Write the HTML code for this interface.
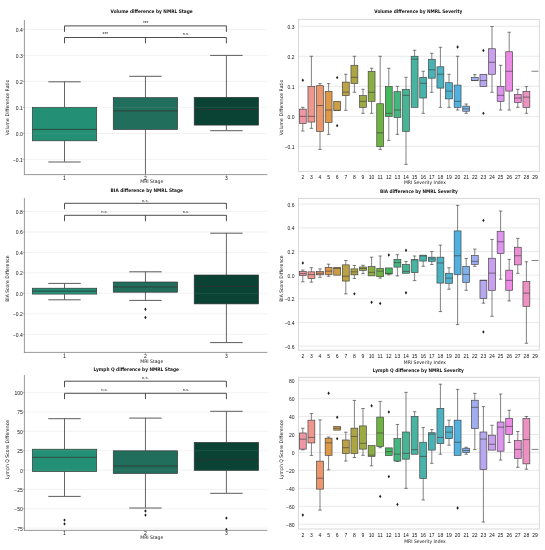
<!DOCTYPE html>
<html><head><meta charset="utf-8"><title>Boxplots</title>
<style>html,body{margin:0;padding:0;background:#fff;}svg{display:block;}</style>
</head><body>
<svg width="545" height="550" viewBox="0 0 545 550" font-family="'Liberation Sans', 'DejaVu Sans', Arial, sans-serif">
<rect width="545" height="550" fill="#ffffff"/>
<line x1="24.40" y1="29.40" x2="267.40" y2="29.40" stroke="#ececec" stroke-width="0.7"/>
<line x1="24.40" y1="55.40" x2="267.40" y2="55.40" stroke="#ececec" stroke-width="0.7"/>
<line x1="24.40" y1="81.40" x2="267.40" y2="81.40" stroke="#ececec" stroke-width="0.7"/>
<line x1="24.40" y1="107.40" x2="267.40" y2="107.40" stroke="#ececec" stroke-width="0.7"/>
<line x1="24.40" y1="133.40" x2="267.40" y2="133.40" stroke="#ececec" stroke-width="0.7"/>
<line x1="24.40" y1="159.40" x2="267.40" y2="159.40" stroke="#ececec" stroke-width="0.7"/>
<line x1="64.50" y1="81.50" x2="64.50" y2="107.30" stroke="#333333" stroke-width="0.75"/>
<line x1="64.50" y1="140.80" x2="64.50" y2="161.70" stroke="#333333" stroke-width="0.75"/>
<line x1="48.30" y1="162.00" x2="80.70" y2="162.00" stroke="#5c5c5c" stroke-width="1.0"/>
<line x1="48.30" y1="81.80" x2="80.70" y2="81.80" stroke="#5c5c5c" stroke-width="1.0"/>
<rect x="32.30" y="107.30" width="64.40" height="33.50" fill="#238f74" stroke="#333333" stroke-width="0.65"/>
<line x1="32.30" y1="129.40" x2="96.70" y2="129.40" stroke="#333333" stroke-width="0.75"/>
<line x1="145.45" y1="76.00" x2="145.45" y2="97.60" stroke="#333333" stroke-width="0.75"/>
<line x1="145.45" y1="129.50" x2="145.45" y2="174.60" stroke="#333333" stroke-width="0.75"/>
<line x1="129.25" y1="76.30" x2="161.65" y2="76.30" stroke="#5c5c5c" stroke-width="1.0"/>
<rect x="113.25" y="97.60" width="64.40" height="31.90" fill="#216e5c" stroke="#333333" stroke-width="0.65"/>
<line x1="113.25" y1="110.90" x2="177.65" y2="110.90" stroke="#333333" stroke-width="0.75"/>
<line x1="226.40" y1="55.10" x2="226.40" y2="97.30" stroke="#333333" stroke-width="0.75"/>
<line x1="226.40" y1="125.10" x2="226.40" y2="130.40" stroke="#333333" stroke-width="0.75"/>
<line x1="210.20" y1="130.70" x2="242.60" y2="130.70" stroke="#5c5c5c" stroke-width="1.0"/>
<line x1="210.20" y1="55.40" x2="242.60" y2="55.40" stroke="#5c5c5c" stroke-width="1.0"/>
<rect x="194.20" y="97.30" width="64.40" height="27.80" fill="#0a4234" stroke="#333333" stroke-width="0.65"/>
<line x1="194.20" y1="109.60" x2="258.60" y2="109.60" stroke="#333333" stroke-width="0.75"/>
<line x1="32.75" y1="107.40" x2="96.25" y2="107.40" stroke="#ffffff" stroke-width="0.7" stroke-opacity="0.12"/>
<line x1="113.70" y1="107.40" x2="177.20" y2="107.40" stroke="#ffffff" stroke-width="0.7" stroke-opacity="0.12"/>
<line x1="194.65" y1="107.40" x2="258.15" y2="107.40" stroke="#ffffff" stroke-width="0.7" stroke-opacity="0.12"/>
<line x1="32.75" y1="133.40" x2="96.25" y2="133.40" stroke="#ffffff" stroke-width="0.7" stroke-opacity="0.12"/>
<line x1="24.40" y1="20.00" x2="24.40" y2="175.05" stroke="#8c8c8c" stroke-width="0.9"/>
<line x1="23.95" y1="174.60" x2="267.40" y2="174.60" stroke="#8c8c8c" stroke-width="0.9"/>
<line x1="22.80" y1="29.40" x2="24.40" y2="29.40" stroke="#8c8c8c" stroke-width="0.6"/>
<text x="22.80" y="31.90" font-size="5.0" text-anchor="end" font-weight="normal" fill="#141414">0.4</text>
<line x1="22.80" y1="55.40" x2="24.40" y2="55.40" stroke="#8c8c8c" stroke-width="0.6"/>
<text x="22.80" y="57.90" font-size="5.0" text-anchor="end" font-weight="normal" fill="#141414">0.3</text>
<line x1="22.80" y1="81.40" x2="24.40" y2="81.40" stroke="#8c8c8c" stroke-width="0.6"/>
<text x="22.80" y="83.90" font-size="5.0" text-anchor="end" font-weight="normal" fill="#141414">0.2</text>
<line x1="22.80" y1="107.40" x2="24.40" y2="107.40" stroke="#8c8c8c" stroke-width="0.6"/>
<text x="22.80" y="109.90" font-size="5.0" text-anchor="end" font-weight="normal" fill="#141414">0.1</text>
<line x1="22.80" y1="133.40" x2="24.40" y2="133.40" stroke="#8c8c8c" stroke-width="0.6"/>
<text x="22.80" y="135.90" font-size="5.0" text-anchor="end" font-weight="normal" fill="#141414">0.0</text>
<line x1="22.80" y1="159.40" x2="24.40" y2="159.40" stroke="#8c8c8c" stroke-width="0.6"/>
<text x="22.80" y="161.90" font-size="5.0" text-anchor="end" font-weight="normal" fill="#141414">−0.1</text>
<line x1="64.50" y1="174.60" x2="64.50" y2="176.20" stroke="#8c8c8c" stroke-width="0.6"/>
<text x="64.50" y="179.55" font-size="5.0" text-anchor="middle" font-weight="normal" fill="#141414">1</text>
<line x1="145.45" y1="174.60" x2="145.45" y2="176.20" stroke="#8c8c8c" stroke-width="0.6"/>
<text x="145.45" y="179.55" font-size="5.0" text-anchor="middle" font-weight="normal" fill="#141414">2</text>
<line x1="226.40" y1="174.60" x2="226.40" y2="176.20" stroke="#8c8c8c" stroke-width="0.6"/>
<text x="226.40" y="179.55" font-size="5.0" text-anchor="middle" font-weight="normal" fill="#141414">3</text>
<path d="M64.50 31.90V25.90H226.40V31.90" fill="none" stroke="#3a3a3a" stroke-width="0.9"/>
<path d="M64.50 43.30V37.50H226.40V43.30" fill="none" stroke="#3a3a3a" stroke-width="0.9"/>
<line x1="145.45" y1="37.50" x2="145.45" y2="43.30" stroke="#3a3a3a" stroke-width="0.9"/>
<text x="145.70" y="24.90" font-size="5.6" text-anchor="middle" font-weight="normal" fill="#222" textLength="5.40" lengthAdjust="spacingAndGlyphs">***</text>
<text x="105.30" y="36.40" font-size="5.6" text-anchor="middle" font-weight="normal" fill="#222" textLength="5.40" lengthAdjust="spacingAndGlyphs">***</text>
<text x="186.00" y="35.00" font-size="4.0" text-anchor="middle" font-weight="normal" fill="#141414">n.s.</text>
<text x="110.60" y="13.00" font-size="4.9" text-anchor="start" font-weight="bold" fill="#111" textLength="82.10" lengthAdjust="spacingAndGlyphs" font-family="'DejaVu Sans', sans-serif">Volume difference by NMRL Stage</text>
<text x="140.20" y="183.30" font-size="4.8" text-anchor="start" font-weight="normal" fill="#141414" textLength="23.10" lengthAdjust="spacingAndGlyphs" font-family="'DejaVu Sans', sans-serif">MRI Stage</text>
<text transform="translate(9.20,107.40) rotate(-90)" x="0" y="0" font-size="4.8" text-anchor="middle" font-weight="normal" fill="#141414" textLength="55.60" lengthAdjust="spacingAndGlyphs" font-family="'DejaVu Sans', sans-serif">Volume Difference Ratio</text>
<line x1="24.40" y1="211.51" x2="267.40" y2="211.51" stroke="#ececec" stroke-width="0.7"/>
<line x1="24.40" y1="231.97" x2="267.40" y2="231.97" stroke="#ececec" stroke-width="0.7"/>
<line x1="24.40" y1="252.43" x2="267.40" y2="252.43" stroke="#ececec" stroke-width="0.7"/>
<line x1="24.40" y1="272.89" x2="267.40" y2="272.89" stroke="#ececec" stroke-width="0.7"/>
<line x1="24.40" y1="293.35" x2="267.40" y2="293.35" stroke="#ececec" stroke-width="0.7"/>
<line x1="24.40" y1="313.81" x2="267.40" y2="313.81" stroke="#ececec" stroke-width="0.7"/>
<line x1="24.40" y1="334.27" x2="267.40" y2="334.27" stroke="#ececec" stroke-width="0.7"/>
<line x1="64.50" y1="283.10" x2="64.50" y2="288.20" stroke="#333333" stroke-width="0.75"/>
<line x1="64.50" y1="294.10" x2="64.50" y2="299.50" stroke="#333333" stroke-width="0.75"/>
<line x1="48.30" y1="299.80" x2="80.70" y2="299.80" stroke="#5c5c5c" stroke-width="1.0"/>
<line x1="48.30" y1="283.40" x2="80.70" y2="283.40" stroke="#5c5c5c" stroke-width="1.0"/>
<rect x="32.30" y="288.20" width="64.40" height="5.90" fill="#238f74" stroke="#333333" stroke-width="0.65"/>
<line x1="32.30" y1="291.10" x2="96.70" y2="291.10" stroke="#333333" stroke-width="0.75"/>
<line x1="145.45" y1="271.50" x2="145.45" y2="282.00" stroke="#333333" stroke-width="0.75"/>
<line x1="145.45" y1="292.20" x2="145.45" y2="300.10" stroke="#333333" stroke-width="0.75"/>
<line x1="129.25" y1="300.40" x2="161.65" y2="300.40" stroke="#5c5c5c" stroke-width="1.0"/>
<line x1="129.25" y1="271.80" x2="161.65" y2="271.80" stroke="#5c5c5c" stroke-width="1.0"/>
<rect x="113.25" y="282.00" width="64.40" height="10.20" fill="#216e5c" stroke="#333333" stroke-width="0.65"/>
<line x1="113.25" y1="286.90" x2="177.65" y2="286.90" stroke="#333333" stroke-width="0.75"/>
<path d="M145.45 307.50L146.65 309.20L145.45 310.90L144.25 309.20Z" fill="#1e1e1e"/>
<path d="M145.45 315.80L146.65 317.50L145.45 319.20L144.25 317.50Z" fill="#1e1e1e"/>
<line x1="226.40" y1="232.90" x2="226.40" y2="275.00" stroke="#333333" stroke-width="0.75"/>
<line x1="226.40" y1="303.90" x2="226.40" y2="342.30" stroke="#333333" stroke-width="0.75"/>
<line x1="210.20" y1="342.60" x2="242.60" y2="342.60" stroke="#5c5c5c" stroke-width="1.0"/>
<line x1="210.20" y1="233.20" x2="242.60" y2="233.20" stroke="#5c5c5c" stroke-width="1.0"/>
<rect x="194.20" y="275.00" width="64.40" height="28.90" fill="#0a4234" stroke="#333333" stroke-width="0.65"/>
<line x1="194.20" y1="286.40" x2="258.60" y2="286.40" stroke="#333333" stroke-width="0.75"/>
<line x1="32.75" y1="293.35" x2="96.25" y2="293.35" stroke="#ffffff" stroke-width="0.7" stroke-opacity="0.12"/>
<line x1="194.65" y1="293.35" x2="258.15" y2="293.35" stroke="#ffffff" stroke-width="0.7" stroke-opacity="0.12"/>
<line x1="24.40" y1="197.90" x2="24.40" y2="352.85" stroke="#8c8c8c" stroke-width="0.9"/>
<line x1="23.95" y1="352.40" x2="267.40" y2="352.40" stroke="#8c8c8c" stroke-width="0.9"/>
<line x1="22.80" y1="211.51" x2="24.40" y2="211.51" stroke="#8c8c8c" stroke-width="0.6"/>
<text x="22.80" y="214.01" font-size="5.0" text-anchor="end" font-weight="normal" fill="#141414">0.8</text>
<line x1="22.80" y1="231.97" x2="24.40" y2="231.97" stroke="#8c8c8c" stroke-width="0.6"/>
<text x="22.80" y="234.47" font-size="5.0" text-anchor="end" font-weight="normal" fill="#141414">0.6</text>
<line x1="22.80" y1="252.43" x2="24.40" y2="252.43" stroke="#8c8c8c" stroke-width="0.6"/>
<text x="22.80" y="254.93" font-size="5.0" text-anchor="end" font-weight="normal" fill="#141414">0.4</text>
<line x1="22.80" y1="272.89" x2="24.40" y2="272.89" stroke="#8c8c8c" stroke-width="0.6"/>
<text x="22.80" y="275.39" font-size="5.0" text-anchor="end" font-weight="normal" fill="#141414">0.2</text>
<line x1="22.80" y1="293.35" x2="24.40" y2="293.35" stroke="#8c8c8c" stroke-width="0.6"/>
<text x="22.80" y="295.85" font-size="5.0" text-anchor="end" font-weight="normal" fill="#141414">0.0</text>
<line x1="22.80" y1="313.81" x2="24.40" y2="313.81" stroke="#8c8c8c" stroke-width="0.6"/>
<text x="22.80" y="316.31" font-size="5.0" text-anchor="end" font-weight="normal" fill="#141414">−0.2</text>
<line x1="22.80" y1="334.27" x2="24.40" y2="334.27" stroke="#8c8c8c" stroke-width="0.6"/>
<text x="22.80" y="336.77" font-size="5.0" text-anchor="end" font-weight="normal" fill="#141414">−0.4</text>
<line x1="64.50" y1="352.40" x2="64.50" y2="354.00" stroke="#8c8c8c" stroke-width="0.6"/>
<text x="64.50" y="357.65" font-size="5.0" text-anchor="middle" font-weight="normal" fill="#141414">1</text>
<line x1="145.45" y1="352.40" x2="145.45" y2="354.00" stroke="#8c8c8c" stroke-width="0.6"/>
<text x="145.45" y="357.65" font-size="5.0" text-anchor="middle" font-weight="normal" fill="#141414">2</text>
<line x1="226.40" y1="352.40" x2="226.40" y2="354.00" stroke="#8c8c8c" stroke-width="0.6"/>
<text x="226.40" y="357.65" font-size="5.0" text-anchor="middle" font-weight="normal" fill="#141414">3</text>
<path d="M64.50 209.20V203.30H226.40V209.20" fill="none" stroke="#3a3a3a" stroke-width="0.9"/>
<path d="M64.50 221.20V215.30H226.40V221.20" fill="none" stroke="#3a3a3a" stroke-width="0.9"/>
<line x1="145.45" y1="215.30" x2="145.45" y2="221.20" stroke="#3a3a3a" stroke-width="0.9"/>
<text x="145.30" y="201.60" font-size="4.0" text-anchor="middle" font-weight="normal" fill="#141414">n.s.</text>
<text x="104.50" y="212.90" font-size="4.0" text-anchor="middle" font-weight="normal" fill="#141414">n.s.</text>
<text x="186.00" y="212.90" font-size="4.0" text-anchor="middle" font-weight="normal" fill="#141414">n.s.</text>
<text x="110.60" y="191.60" font-size="4.9" text-anchor="start" font-weight="bold" fill="#111" textLength="72.30" lengthAdjust="spacingAndGlyphs" font-family="'DejaVu Sans', sans-serif">BIA difference by NMRL Stage</text>
<text x="140.20" y="362.70" font-size="4.8" text-anchor="start" font-weight="normal" fill="#141414" textLength="23.10" lengthAdjust="spacingAndGlyphs" font-family="'DejaVu Sans', sans-serif">MRI Stage</text>
<text transform="translate(9.20,278.65) rotate(-90)" x="0" y="0" font-size="4.8" text-anchor="middle" font-weight="normal" fill="#141414" textLength="46.30" lengthAdjust="spacingAndGlyphs" font-family="'DejaVu Sans', sans-serif">BIA Score Difference</text>
<line x1="24.40" y1="392.56" x2="267.40" y2="392.56" stroke="#ececec" stroke-width="0.7"/>
<line x1="24.40" y1="411.93" x2="267.40" y2="411.93" stroke="#ececec" stroke-width="0.7"/>
<line x1="24.40" y1="431.31" x2="267.40" y2="431.31" stroke="#ececec" stroke-width="0.7"/>
<line x1="24.40" y1="450.68" x2="267.40" y2="450.68" stroke="#ececec" stroke-width="0.7"/>
<line x1="24.40" y1="470.05" x2="267.40" y2="470.05" stroke="#ececec" stroke-width="0.7"/>
<line x1="24.40" y1="489.42" x2="267.40" y2="489.42" stroke="#ececec" stroke-width="0.7"/>
<line x1="24.40" y1="508.80" x2="267.40" y2="508.80" stroke="#ececec" stroke-width="0.7"/>
<line x1="24.40" y1="528.17" x2="267.40" y2="528.17" stroke="#ececec" stroke-width="0.7"/>
<line x1="64.50" y1="418.40" x2="64.50" y2="449.20" stroke="#333333" stroke-width="0.75"/>
<line x1="64.50" y1="471.60" x2="64.50" y2="496.10" stroke="#333333" stroke-width="0.75"/>
<line x1="48.30" y1="496.40" x2="80.70" y2="496.40" stroke="#5c5c5c" stroke-width="1.0"/>
<line x1="48.30" y1="418.70" x2="80.70" y2="418.70" stroke="#5c5c5c" stroke-width="1.0"/>
<rect x="32.30" y="449.20" width="64.40" height="22.40" fill="#238f74" stroke="#333333" stroke-width="0.65"/>
<line x1="32.30" y1="457.30" x2="96.70" y2="457.30" stroke="#333333" stroke-width="0.75"/>
<path d="M64.50 518.40L65.70 520.10L64.50 521.80L63.30 520.10Z" fill="#1e1e1e"/>
<path d="M64.50 522.20L65.70 523.90L64.50 525.60L63.30 523.90Z" fill="#1e1e1e"/>
<line x1="145.45" y1="417.80" x2="145.45" y2="450.80" stroke="#333333" stroke-width="0.75"/>
<line x1="145.45" y1="473.50" x2="145.45" y2="507.70" stroke="#333333" stroke-width="0.75"/>
<line x1="129.25" y1="508.00" x2="161.65" y2="508.00" stroke="#5c5c5c" stroke-width="1.0"/>
<line x1="129.25" y1="418.10" x2="161.65" y2="418.10" stroke="#5c5c5c" stroke-width="1.0"/>
<rect x="113.25" y="450.80" width="64.40" height="22.70" fill="#216e5c" stroke="#333333" stroke-width="0.65"/>
<line x1="113.25" y1="465.90" x2="177.65" y2="465.90" stroke="#333333" stroke-width="0.75"/>
<path d="M145.45 509.30L146.65 511.00L145.45 512.70L144.25 511.00Z" fill="#1e1e1e"/>
<path d="M145.45 513.40L146.65 515.10L145.45 516.80L144.25 515.10Z" fill="#1e1e1e"/>
<line x1="226.40" y1="411.00" x2="226.40" y2="442.40" stroke="#333333" stroke-width="0.75"/>
<line x1="226.40" y1="470.50" x2="226.40" y2="493.00" stroke="#333333" stroke-width="0.75"/>
<line x1="210.20" y1="493.30" x2="242.60" y2="493.30" stroke="#5c5c5c" stroke-width="1.0"/>
<line x1="210.20" y1="411.30" x2="242.60" y2="411.30" stroke="#5c5c5c" stroke-width="1.0"/>
<rect x="194.20" y="442.40" width="64.40" height="28.10" fill="#0a4234" stroke="#333333" stroke-width="0.65"/>
<line x1="194.20" y1="459.70" x2="258.60" y2="459.70" stroke="#333333" stroke-width="0.75"/>
<path d="M226.40 516.40L227.60 518.10L226.40 519.80L225.20 518.10Z" fill="#1e1e1e"/>
<path d="M226.40 527.70L227.60 529.40L226.40 531.10L225.20 529.40Z" fill="#1e1e1e"/>
<line x1="32.75" y1="450.68" x2="96.25" y2="450.68" stroke="#ffffff" stroke-width="0.7" stroke-opacity="0.12"/>
<line x1="194.65" y1="450.68" x2="258.15" y2="450.68" stroke="#ffffff" stroke-width="0.7" stroke-opacity="0.12"/>
<line x1="32.75" y1="470.05" x2="96.25" y2="470.05" stroke="#ffffff" stroke-width="0.7" stroke-opacity="0.12"/>
<line x1="113.70" y1="470.05" x2="177.20" y2="470.05" stroke="#ffffff" stroke-width="0.7" stroke-opacity="0.12"/>
<line x1="194.65" y1="470.05" x2="258.15" y2="470.05" stroke="#ffffff" stroke-width="0.7" stroke-opacity="0.12"/>
<line x1="24.40" y1="375.10" x2="24.40" y2="530.85" stroke="#8c8c8c" stroke-width="0.9"/>
<line x1="23.95" y1="530.40" x2="267.40" y2="530.40" stroke="#8c8c8c" stroke-width="0.9"/>
<line x1="22.80" y1="392.56" x2="24.40" y2="392.56" stroke="#8c8c8c" stroke-width="0.6"/>
<text x="22.80" y="395.06" font-size="5.0" text-anchor="end" font-weight="normal" fill="#141414">100</text>
<line x1="22.80" y1="411.93" x2="24.40" y2="411.93" stroke="#8c8c8c" stroke-width="0.6"/>
<text x="22.80" y="414.43" font-size="5.0" text-anchor="end" font-weight="normal" fill="#141414">75</text>
<line x1="22.80" y1="431.31" x2="24.40" y2="431.31" stroke="#8c8c8c" stroke-width="0.6"/>
<text x="22.80" y="433.81" font-size="5.0" text-anchor="end" font-weight="normal" fill="#141414">50</text>
<line x1="22.80" y1="450.68" x2="24.40" y2="450.68" stroke="#8c8c8c" stroke-width="0.6"/>
<text x="22.80" y="453.18" font-size="5.0" text-anchor="end" font-weight="normal" fill="#141414">25</text>
<line x1="22.80" y1="470.05" x2="24.40" y2="470.05" stroke="#8c8c8c" stroke-width="0.6"/>
<text x="22.80" y="472.55" font-size="5.0" text-anchor="end" font-weight="normal" fill="#141414">0</text>
<line x1="22.80" y1="489.42" x2="24.40" y2="489.42" stroke="#8c8c8c" stroke-width="0.6"/>
<text x="22.80" y="491.92" font-size="5.0" text-anchor="end" font-weight="normal" fill="#141414">−25</text>
<line x1="22.80" y1="508.80" x2="24.40" y2="508.80" stroke="#8c8c8c" stroke-width="0.6"/>
<text x="22.80" y="511.30" font-size="5.0" text-anchor="end" font-weight="normal" fill="#141414">−50</text>
<line x1="22.80" y1="528.17" x2="24.40" y2="528.17" stroke="#8c8c8c" stroke-width="0.6"/>
<text x="22.80" y="530.67" font-size="5.0" text-anchor="end" font-weight="normal" fill="#141414">−75</text>
<line x1="64.50" y1="530.40" x2="64.50" y2="532.00" stroke="#8c8c8c" stroke-width="0.6"/>
<text x="64.50" y="535.45" font-size="5.0" text-anchor="middle" font-weight="normal" fill="#141414">1</text>
<line x1="145.45" y1="530.40" x2="145.45" y2="532.00" stroke="#8c8c8c" stroke-width="0.6"/>
<text x="145.45" y="535.45" font-size="5.0" text-anchor="middle" font-weight="normal" fill="#141414">2</text>
<line x1="226.40" y1="530.40" x2="226.40" y2="532.00" stroke="#8c8c8c" stroke-width="0.6"/>
<text x="226.40" y="535.45" font-size="5.0" text-anchor="middle" font-weight="normal" fill="#141414">3</text>
<path d="M64.50 387.20V381.20H226.40V387.20" fill="none" stroke="#3a3a3a" stroke-width="0.9"/>
<path d="M64.50 399.10V393.30H226.40V399.10" fill="none" stroke="#3a3a3a" stroke-width="0.9"/>
<line x1="145.45" y1="393.30" x2="145.45" y2="399.10" stroke="#3a3a3a" stroke-width="0.9"/>
<text x="145.30" y="379.30" font-size="4.0" text-anchor="middle" font-weight="normal" fill="#141414">n.s.</text>
<text x="104.50" y="391.20" font-size="4.0" text-anchor="middle" font-weight="normal" fill="#141414">n.s.</text>
<text x="186.00" y="391.20" font-size="4.0" text-anchor="middle" font-weight="normal" fill="#141414">n.s.</text>
<text x="93.60" y="370.50" font-size="4.9" text-anchor="start" font-weight="bold" fill="#111" textLength="85.30" lengthAdjust="spacingAndGlyphs" font-family="'DejaVu Sans', sans-serif">Lymph Q difference by NMRL Stage</text>
<text x="140.20" y="538.80" font-size="4.8" text-anchor="start" font-weight="normal" fill="#141414" textLength="23.10" lengthAdjust="spacingAndGlyphs" font-family="'DejaVu Sans', sans-serif">MRI Stage</text>
<text transform="translate(9.20,449.60) rotate(-90)" x="0" y="0" font-size="4.8" text-anchor="middle" font-weight="normal" fill="#141414" textLength="59.20" lengthAdjust="spacingAndGlyphs" font-family="'DejaVu Sans', sans-serif">Lymph Q Score Difference</text>
<line x1="298.50" y1="26.22" x2="539.30" y2="26.22" stroke="#e3e3e3" stroke-width="0.8"/>
<line x1="298.50" y1="56.26" x2="539.30" y2="56.26" stroke="#e3e3e3" stroke-width="0.8"/>
<line x1="298.50" y1="86.30" x2="539.30" y2="86.30" stroke="#e3e3e3" stroke-width="0.8"/>
<line x1="298.50" y1="116.34" x2="539.30" y2="116.34" stroke="#e3e3e3" stroke-width="0.8"/>
<line x1="298.50" y1="146.38" x2="539.30" y2="146.38" stroke="#e3e3e3" stroke-width="0.8"/>
<line x1="302.80" y1="107.33" x2="302.80" y2="109.13" stroke="#404040" stroke-width="0.65"/>
<line x1="301.08" y1="107.33" x2="304.52" y2="107.33" stroke="#404040" stroke-width="0.65"/>
<line x1="302.80" y1="123.55" x2="302.80" y2="131.06" stroke="#404040" stroke-width="0.65"/>
<line x1="301.08" y1="131.06" x2="304.52" y2="131.06" stroke="#404040" stroke-width="0.65"/>
<rect x="299.36" y="109.13" width="6.88" height="14.42" fill="#ee96a4" stroke="#404040" stroke-width="0.65"/>
<line x1="299.36" y1="116.34" x2="306.24" y2="116.34" stroke="#404040" stroke-width="0.65"/>
<path d="M302.80 78.59L304.00 80.29L302.80 81.99L301.60 80.29Z" fill="#1e1e1e"/>
<line x1="311.40" y1="56.26" x2="311.40" y2="86.30" stroke="#404040" stroke-width="0.65"/>
<line x1="309.68" y1="56.26" x2="313.12" y2="56.26" stroke="#404040" stroke-width="0.65"/>
<line x1="311.40" y1="122.05" x2="311.40" y2="128.36" stroke="#404040" stroke-width="0.65"/>
<line x1="309.68" y1="128.36" x2="313.12" y2="128.36" stroke="#404040" stroke-width="0.65"/>
<rect x="307.96" y="86.30" width="6.88" height="35.75" fill="#ee978f" stroke="#404040" stroke-width="0.65"/>
<line x1="307.96" y1="116.34" x2="314.84" y2="116.34" stroke="#404040" stroke-width="0.65"/>
<line x1="320.00" y1="83.60" x2="320.00" y2="85.70" stroke="#404040" stroke-width="0.65"/>
<line x1="318.28" y1="83.60" x2="321.72" y2="83.60" stroke="#404040" stroke-width="0.65"/>
<line x1="320.00" y1="131.36" x2="320.00" y2="149.38" stroke="#404040" stroke-width="0.65"/>
<line x1="318.28" y1="149.38" x2="321.72" y2="149.38" stroke="#404040" stroke-width="0.65"/>
<rect x="316.56" y="85.70" width="6.88" height="45.66" fill="#eb966c" stroke="#404040" stroke-width="0.65"/>
<line x1="316.56" y1="105.53" x2="323.44" y2="105.53" stroke="#404040" stroke-width="0.65"/>
<line x1="328.60" y1="83.60" x2="328.60" y2="91.41" stroke="#404040" stroke-width="0.65"/>
<line x1="326.88" y1="83.60" x2="330.32" y2="83.60" stroke="#404040" stroke-width="0.65"/>
<line x1="328.60" y1="122.35" x2="328.60" y2="134.36" stroke="#404040" stroke-width="0.65"/>
<line x1="326.88" y1="134.36" x2="330.32" y2="134.36" stroke="#404040" stroke-width="0.65"/>
<rect x="325.16" y="91.41" width="6.88" height="30.94" fill="#dd9848" stroke="#404040" stroke-width="0.65"/>
<line x1="325.16" y1="110.03" x2="332.04" y2="110.03" stroke="#404040" stroke-width="0.65"/>
<rect x="333.76" y="101.32" width="6.88" height="9.01" fill="#cb9e46" stroke="#404040" stroke-width="0.65"/>
<line x1="333.76" y1="110.33" x2="340.64" y2="110.33" stroke="#404040" stroke-width="0.65"/>
<path d="M337.20 75.89L338.40 77.59L337.20 79.29L336.00 77.59Z" fill="#1e1e1e"/>
<path d="M337.20 123.95L338.40 125.65L337.20 127.35L336.00 125.65Z" fill="#1e1e1e"/>
<line x1="345.80" y1="74.28" x2="345.80" y2="82.09" stroke="#404040" stroke-width="0.65"/>
<line x1="344.08" y1="74.28" x2="347.52" y2="74.28" stroke="#404040" stroke-width="0.65"/>
<line x1="345.80" y1="95.61" x2="345.80" y2="110.33" stroke="#404040" stroke-width="0.65"/>
<line x1="344.08" y1="110.33" x2="347.52" y2="110.33" stroke="#404040" stroke-width="0.65"/>
<rect x="342.36" y="82.09" width="6.88" height="13.52" fill="#bca245" stroke="#404040" stroke-width="0.65"/>
<line x1="342.36" y1="92.16" x2="349.24" y2="92.16" stroke="#404040" stroke-width="0.65"/>
<line x1="354.40" y1="56.26" x2="354.40" y2="65.27" stroke="#404040" stroke-width="0.65"/>
<line x1="352.68" y1="56.26" x2="356.12" y2="56.26" stroke="#404040" stroke-width="0.65"/>
<line x1="354.40" y1="83.60" x2="354.40" y2="92.31" stroke="#404040" stroke-width="0.65"/>
<line x1="352.68" y1="92.31" x2="356.12" y2="92.31" stroke="#404040" stroke-width="0.65"/>
<rect x="350.96" y="65.27" width="6.88" height="18.32" fill="#ada543" stroke="#404040" stroke-width="0.65"/>
<line x1="350.96" y1="77.29" x2="357.84" y2="77.29" stroke="#404040" stroke-width="0.65"/>
<line x1="363.00" y1="89.30" x2="363.00" y2="95.61" stroke="#404040" stroke-width="0.65"/>
<line x1="361.28" y1="89.30" x2="364.72" y2="89.30" stroke="#404040" stroke-width="0.65"/>
<line x1="363.00" y1="107.33" x2="363.00" y2="113.34" stroke="#404040" stroke-width="0.65"/>
<line x1="361.28" y1="113.34" x2="364.72" y2="113.34" stroke="#404040" stroke-width="0.65"/>
<rect x="359.56" y="95.61" width="6.88" height="11.72" fill="#9ea943" stroke="#404040" stroke-width="0.65"/>
<line x1="359.56" y1="101.32" x2="366.44" y2="101.32" stroke="#404040" stroke-width="0.65"/>
<line x1="371.60" y1="68.28" x2="371.60" y2="71.28" stroke="#404040" stroke-width="0.65"/>
<line x1="369.88" y1="68.28" x2="373.32" y2="68.28" stroke="#404040" stroke-width="0.65"/>
<line x1="371.60" y1="101.32" x2="371.60" y2="113.34" stroke="#404040" stroke-width="0.65"/>
<line x1="369.88" y1="113.34" x2="373.32" y2="113.34" stroke="#404040" stroke-width="0.65"/>
<rect x="368.16" y="71.28" width="6.88" height="30.04" fill="#8bae43" stroke="#404040" stroke-width="0.65"/>
<line x1="368.16" y1="92.31" x2="375.04" y2="92.31" stroke="#404040" stroke-width="0.65"/>
<line x1="380.20" y1="56.26" x2="380.20" y2="103.72" stroke="#404040" stroke-width="0.65"/>
<line x1="378.48" y1="56.26" x2="381.92" y2="56.26" stroke="#404040" stroke-width="0.65"/>
<line x1="380.20" y1="146.68" x2="380.20" y2="149.38" stroke="#404040" stroke-width="0.65"/>
<line x1="378.48" y1="149.38" x2="381.92" y2="149.38" stroke="#404040" stroke-width="0.65"/>
<rect x="376.76" y="103.72" width="6.88" height="42.96" fill="#6fb443" stroke="#404040" stroke-width="0.65"/>
<line x1="376.76" y1="132.86" x2="383.64" y2="132.86" stroke="#404040" stroke-width="0.65"/>
<line x1="388.80" y1="68.28" x2="388.80" y2="86.60" stroke="#404040" stroke-width="0.65"/>
<line x1="387.08" y1="68.28" x2="390.52" y2="68.28" stroke="#404040" stroke-width="0.65"/>
<line x1="388.80" y1="116.34" x2="388.80" y2="140.37" stroke="#404040" stroke-width="0.65"/>
<line x1="387.08" y1="140.37" x2="390.52" y2="140.37" stroke="#404040" stroke-width="0.65"/>
<rect x="385.36" y="86.60" width="6.88" height="29.74" fill="#44b85d" stroke="#404040" stroke-width="0.65"/>
<line x1="385.36" y1="113.34" x2="392.24" y2="113.34" stroke="#404040" stroke-width="0.65"/>
<line x1="397.40" y1="86.30" x2="397.40" y2="91.71" stroke="#404040" stroke-width="0.65"/>
<line x1="395.68" y1="86.30" x2="399.12" y2="86.30" stroke="#404040" stroke-width="0.65"/>
<line x1="397.40" y1="117.54" x2="397.40" y2="134.36" stroke="#404040" stroke-width="0.65"/>
<line x1="395.68" y1="134.36" x2="399.12" y2="134.36" stroke="#404040" stroke-width="0.65"/>
<rect x="393.96" y="91.71" width="6.88" height="25.83" fill="#46b681" stroke="#404040" stroke-width="0.65"/>
<line x1="393.96" y1="110.03" x2="400.84" y2="110.03" stroke="#404040" stroke-width="0.65"/>
<line x1="406.00" y1="77.29" x2="406.00" y2="89.30" stroke="#404040" stroke-width="0.65"/>
<line x1="404.28" y1="77.29" x2="407.72" y2="77.29" stroke="#404040" stroke-width="0.65"/>
<line x1="406.00" y1="131.36" x2="406.00" y2="164.40" stroke="#404040" stroke-width="0.65"/>
<line x1="404.28" y1="164.40" x2="407.72" y2="164.40" stroke="#404040" stroke-width="0.65"/>
<rect x="402.56" y="89.30" width="6.88" height="42.06" fill="#46b593" stroke="#404040" stroke-width="0.65"/>
<line x1="402.56" y1="95.31" x2="409.44" y2="95.31" stroke="#404040" stroke-width="0.65"/>
<line x1="414.60" y1="50.25" x2="414.60" y2="56.26" stroke="#404040" stroke-width="0.65"/>
<line x1="412.88" y1="50.25" x2="416.32" y2="50.25" stroke="#404040" stroke-width="0.65"/>
<rect x="411.16" y="56.26" width="6.88" height="51.07" fill="#47b3a0" stroke="#404040" stroke-width="0.65"/>
<line x1="411.16" y1="59.26" x2="418.04" y2="59.26" stroke="#404040" stroke-width="0.65"/>
<line x1="423.20" y1="71.28" x2="423.20" y2="77.29" stroke="#404040" stroke-width="0.65"/>
<line x1="421.48" y1="71.28" x2="424.92" y2="71.28" stroke="#404040" stroke-width="0.65"/>
<line x1="423.20" y1="98.02" x2="423.20" y2="113.34" stroke="#404040" stroke-width="0.65"/>
<line x1="421.48" y1="113.34" x2="424.92" y2="113.34" stroke="#404040" stroke-width="0.65"/>
<rect x="419.76" y="77.29" width="6.88" height="20.73" fill="#48b2ab" stroke="#404040" stroke-width="0.65"/>
<line x1="419.76" y1="83.30" x2="426.64" y2="83.30" stroke="#404040" stroke-width="0.65"/>
<line x1="431.80" y1="53.26" x2="431.80" y2="59.26" stroke="#404040" stroke-width="0.65"/>
<line x1="430.08" y1="53.26" x2="433.52" y2="53.26" stroke="#404040" stroke-width="0.65"/>
<line x1="431.80" y1="78.19" x2="431.80" y2="92.31" stroke="#404040" stroke-width="0.65"/>
<line x1="430.08" y1="92.31" x2="433.52" y2="92.31" stroke="#404040" stroke-width="0.65"/>
<rect x="428.36" y="59.26" width="6.88" height="18.93" fill="#49b2b5" stroke="#404040" stroke-width="0.65"/>
<line x1="428.36" y1="69.78" x2="435.24" y2="69.78" stroke="#404040" stroke-width="0.65"/>
<line x1="440.40" y1="47.25" x2="440.40" y2="66.77" stroke="#404040" stroke-width="0.65"/>
<line x1="438.68" y1="47.25" x2="442.12" y2="47.25" stroke="#404040" stroke-width="0.65"/>
<line x1="440.40" y1="88.10" x2="440.40" y2="107.33" stroke="#404040" stroke-width="0.65"/>
<line x1="438.68" y1="107.33" x2="442.12" y2="107.33" stroke="#404040" stroke-width="0.65"/>
<rect x="436.96" y="66.77" width="6.88" height="21.33" fill="#4bb2c0" stroke="#404040" stroke-width="0.65"/>
<line x1="436.96" y1="74.28" x2="443.84" y2="74.28" stroke="#404040" stroke-width="0.65"/>
<line x1="449.00" y1="74.28" x2="449.00" y2="82.70" stroke="#404040" stroke-width="0.65"/>
<line x1="447.28" y1="74.28" x2="450.72" y2="74.28" stroke="#404040" stroke-width="0.65"/>
<line x1="449.00" y1="98.92" x2="449.00" y2="107.33" stroke="#404040" stroke-width="0.65"/>
<line x1="447.28" y1="107.33" x2="450.72" y2="107.33" stroke="#404040" stroke-width="0.65"/>
<rect x="445.56" y="82.70" width="6.88" height="16.22" fill="#4db2ce" stroke="#404040" stroke-width="0.65"/>
<line x1="445.56" y1="91.11" x2="452.44" y2="91.11" stroke="#404040" stroke-width="0.65"/>
<line x1="457.60" y1="56.26" x2="457.60" y2="85.10" stroke="#404040" stroke-width="0.65"/>
<line x1="455.88" y1="56.26" x2="459.32" y2="56.26" stroke="#404040" stroke-width="0.65"/>
<line x1="457.60" y1="107.33" x2="457.60" y2="110.03" stroke="#404040" stroke-width="0.65"/>
<line x1="455.88" y1="110.03" x2="459.32" y2="110.03" stroke="#404040" stroke-width="0.65"/>
<rect x="454.16" y="85.10" width="6.88" height="22.23" fill="#50b1e0" stroke="#404040" stroke-width="0.65"/>
<line x1="454.16" y1="101.32" x2="461.04" y2="101.32" stroke="#404040" stroke-width="0.65"/>
<path d="M457.60 45.25L458.80 46.95L457.60 48.65L456.40 46.95Z" fill="#1e1e1e"/>
<line x1="466.20" y1="104.02" x2="466.20" y2="106.13" stroke="#404040" stroke-width="0.65"/>
<line x1="464.48" y1="104.02" x2="467.92" y2="104.02" stroke="#404040" stroke-width="0.65"/>
<line x1="466.20" y1="111.23" x2="466.20" y2="113.34" stroke="#404040" stroke-width="0.65"/>
<line x1="464.48" y1="113.34" x2="467.92" y2="113.34" stroke="#404040" stroke-width="0.65"/>
<rect x="462.76" y="106.13" width="6.88" height="5.11" fill="#7fb0ea" stroke="#404040" stroke-width="0.65"/>
<line x1="462.76" y1="108.83" x2="469.64" y2="108.83" stroke="#404040" stroke-width="0.65"/>
<line x1="474.80" y1="74.58" x2="474.80" y2="77.29" stroke="#404040" stroke-width="0.65"/>
<line x1="473.08" y1="74.58" x2="476.52" y2="74.58" stroke="#404040" stroke-width="0.65"/>
<rect x="471.36" y="77.29" width="6.88" height="3.30" fill="#a0adee" stroke="#404040" stroke-width="0.65"/>
<line x1="471.36" y1="80.59" x2="478.24" y2="80.59" stroke="#404040" stroke-width="0.65"/>
<rect x="479.96" y="74.28" width="6.88" height="12.32" fill="#b7a7ee" stroke="#404040" stroke-width="0.65"/>
<line x1="479.96" y1="80.59" x2="486.84" y2="80.59" stroke="#404040" stroke-width="0.65"/>
<path d="M483.40 48.85L484.60 50.55L483.40 52.25L482.20 50.55Z" fill="#1e1e1e"/>
<path d="M483.40 111.64L484.60 113.34L483.40 115.04L482.20 113.34Z" fill="#1e1e1e"/>
<line x1="492.00" y1="26.52" x2="492.00" y2="48.75" stroke="#404040" stroke-width="0.65"/>
<line x1="490.28" y1="26.52" x2="493.72" y2="26.52" stroke="#404040" stroke-width="0.65"/>
<line x1="492.00" y1="74.28" x2="492.00" y2="92.31" stroke="#404040" stroke-width="0.65"/>
<line x1="490.28" y1="92.31" x2="493.72" y2="92.31" stroke="#404040" stroke-width="0.65"/>
<rect x="488.56" y="48.75" width="6.88" height="25.53" fill="#c99fee" stroke="#404040" stroke-width="0.65"/>
<line x1="488.56" y1="62.27" x2="495.44" y2="62.27" stroke="#404040" stroke-width="0.65"/>
<line x1="500.60" y1="65.27" x2="500.60" y2="86.30" stroke="#404040" stroke-width="0.65"/>
<line x1="498.88" y1="65.27" x2="502.32" y2="65.27" stroke="#404040" stroke-width="0.65"/>
<line x1="500.60" y1="101.32" x2="500.60" y2="110.03" stroke="#404040" stroke-width="0.65"/>
<line x1="498.88" y1="110.03" x2="502.32" y2="110.03" stroke="#404040" stroke-width="0.65"/>
<rect x="497.16" y="86.30" width="6.88" height="15.02" fill="#dc94ec" stroke="#404040" stroke-width="0.65"/>
<line x1="497.16" y1="95.31" x2="504.04" y2="95.31" stroke="#404040" stroke-width="0.65"/>
<line x1="509.20" y1="32.23" x2="509.20" y2="51.75" stroke="#404040" stroke-width="0.65"/>
<line x1="507.48" y1="32.23" x2="510.92" y2="32.23" stroke="#404040" stroke-width="0.65"/>
<line x1="509.20" y1="91.11" x2="509.20" y2="110.03" stroke="#404040" stroke-width="0.65"/>
<line x1="507.48" y1="110.03" x2="510.92" y2="110.03" stroke="#404040" stroke-width="0.65"/>
<rect x="505.76" y="51.75" width="6.88" height="39.35" fill="#ec8ae5" stroke="#404040" stroke-width="0.65"/>
<line x1="505.76" y1="71.28" x2="512.64" y2="71.28" stroke="#404040" stroke-width="0.65"/>
<line x1="517.80" y1="89.30" x2="517.80" y2="94.41" stroke="#404040" stroke-width="0.65"/>
<line x1="516.08" y1="89.30" x2="519.52" y2="89.30" stroke="#404040" stroke-width="0.65"/>
<line x1="517.80" y1="102.52" x2="517.80" y2="107.33" stroke="#404040" stroke-width="0.65"/>
<line x1="516.08" y1="107.33" x2="519.52" y2="107.33" stroke="#404040" stroke-width="0.65"/>
<rect x="514.36" y="94.41" width="6.88" height="8.11" fill="#ec8ed3" stroke="#404040" stroke-width="0.65"/>
<line x1="514.36" y1="98.02" x2="521.24" y2="98.02" stroke="#404040" stroke-width="0.65"/>
<line x1="526.40" y1="86.60" x2="526.40" y2="91.41" stroke="#404040" stroke-width="0.65"/>
<line x1="524.68" y1="86.60" x2="528.12" y2="86.60" stroke="#404040" stroke-width="0.65"/>
<line x1="526.40" y1="107.33" x2="526.40" y2="113.34" stroke="#404040" stroke-width="0.65"/>
<line x1="524.68" y1="113.34" x2="528.12" y2="113.34" stroke="#404040" stroke-width="0.65"/>
<rect x="522.96" y="91.41" width="6.88" height="15.92" fill="#ed91c3" stroke="#404040" stroke-width="0.65"/>
<line x1="522.96" y1="97.11" x2="529.84" y2="97.11" stroke="#404040" stroke-width="0.65"/>
<line x1="531.56" y1="71.28" x2="538.44" y2="71.28" stroke="#404040" stroke-width="0.65"/>
<rect x="298.50" y="19.30" width="240.80" height="152.10" fill="none" stroke="#d4d4d4" stroke-width="0.9"/>
<text x="294.50" y="28.72" font-size="5.0" text-anchor="end" font-weight="normal" fill="#141414">0.3</text>
<text x="294.50" y="58.76" font-size="5.0" text-anchor="end" font-weight="normal" fill="#141414">0.2</text>
<text x="294.50" y="88.80" font-size="5.0" text-anchor="end" font-weight="normal" fill="#141414">0.1</text>
<text x="294.50" y="118.84" font-size="5.0" text-anchor="end" font-weight="normal" fill="#141414">0.0</text>
<text x="294.50" y="148.88" font-size="5.0" text-anchor="end" font-weight="normal" fill="#141414">−0.1</text>
<text x="302.80" y="179.30" font-size="5.0" text-anchor="middle" font-weight="normal" fill="#141414">2</text>
<text x="311.40" y="179.30" font-size="5.0" text-anchor="middle" font-weight="normal" fill="#141414">3</text>
<text x="320.00" y="179.30" font-size="5.0" text-anchor="middle" font-weight="normal" fill="#141414">4</text>
<text x="328.60" y="179.30" font-size="5.0" text-anchor="middle" font-weight="normal" fill="#141414">5</text>
<text x="337.20" y="179.30" font-size="5.0" text-anchor="middle" font-weight="normal" fill="#141414">6</text>
<text x="345.80" y="179.30" font-size="5.0" text-anchor="middle" font-weight="normal" fill="#141414">7</text>
<text x="354.40" y="179.30" font-size="5.0" text-anchor="middle" font-weight="normal" fill="#141414">8</text>
<text x="363.00" y="179.30" font-size="5.0" text-anchor="middle" font-weight="normal" fill="#141414">9</text>
<text x="371.60" y="179.30" font-size="5.0" text-anchor="middle" font-weight="normal" fill="#141414">10</text>
<text x="380.20" y="179.30" font-size="5.0" text-anchor="middle" font-weight="normal" fill="#141414">11</text>
<text x="388.80" y="179.30" font-size="5.0" text-anchor="middle" font-weight="normal" fill="#141414">12</text>
<text x="397.40" y="179.30" font-size="5.0" text-anchor="middle" font-weight="normal" fill="#141414">13</text>
<text x="406.00" y="179.30" font-size="5.0" text-anchor="middle" font-weight="normal" fill="#141414">14</text>
<text x="414.60" y="179.30" font-size="5.0" text-anchor="middle" font-weight="normal" fill="#141414">15</text>
<text x="423.20" y="179.30" font-size="5.0" text-anchor="middle" font-weight="normal" fill="#141414">16</text>
<text x="431.80" y="179.30" font-size="5.0" text-anchor="middle" font-weight="normal" fill="#141414">17</text>
<text x="440.40" y="179.30" font-size="5.0" text-anchor="middle" font-weight="normal" fill="#141414">18</text>
<text x="449.00" y="179.30" font-size="5.0" text-anchor="middle" font-weight="normal" fill="#141414">19</text>
<text x="457.60" y="179.30" font-size="5.0" text-anchor="middle" font-weight="normal" fill="#141414">20</text>
<text x="466.20" y="179.30" font-size="5.0" text-anchor="middle" font-weight="normal" fill="#141414">21</text>
<text x="474.80" y="179.30" font-size="5.0" text-anchor="middle" font-weight="normal" fill="#141414">22</text>
<text x="483.40" y="179.30" font-size="5.0" text-anchor="middle" font-weight="normal" fill="#141414">23</text>
<text x="492.00" y="179.30" font-size="5.0" text-anchor="middle" font-weight="normal" fill="#141414">24</text>
<text x="500.60" y="179.30" font-size="5.0" text-anchor="middle" font-weight="normal" fill="#141414">25</text>
<text x="509.20" y="179.30" font-size="5.0" text-anchor="middle" font-weight="normal" fill="#141414">26</text>
<text x="517.80" y="179.30" font-size="5.0" text-anchor="middle" font-weight="normal" fill="#141414">27</text>
<text x="526.40" y="179.30" font-size="5.0" text-anchor="middle" font-weight="normal" fill="#141414">28</text>
<text x="535.00" y="179.30" font-size="5.0" text-anchor="middle" font-weight="normal" fill="#141414">29</text>
<text x="374.30" y="13.20" font-size="4.9" text-anchor="start" font-weight="bold" fill="#111" textLength="88.10" lengthAdjust="spacingAndGlyphs" font-family="'DejaVu Sans', sans-serif">Volume difference by NMRL Severity</text>
<text x="404.00" y="184.10" font-size="4.8" text-anchor="start" font-weight="normal" fill="#141414" textLength="41.90" lengthAdjust="spacingAndGlyphs" font-family="'DejaVu Sans', sans-serif">MRI Severity Index</text>
<text transform="translate(283.00,107.40) rotate(-90)" x="0" y="0" font-size="4.8" text-anchor="middle" font-weight="normal" fill="#141414" textLength="55.60" lengthAdjust="spacingAndGlyphs" font-family="'DejaVu Sans', sans-serif">Volume Difference Ratio</text>
<line x1="298.50" y1="204.20" x2="539.30" y2="204.20" stroke="#e3e3e3" stroke-width="0.8"/>
<line x1="298.50" y1="227.85" x2="539.30" y2="227.85" stroke="#e3e3e3" stroke-width="0.8"/>
<line x1="298.50" y1="251.50" x2="539.30" y2="251.50" stroke="#e3e3e3" stroke-width="0.8"/>
<line x1="298.50" y1="275.15" x2="539.30" y2="275.15" stroke="#e3e3e3" stroke-width="0.8"/>
<line x1="298.50" y1="298.80" x2="539.30" y2="298.80" stroke="#e3e3e3" stroke-width="0.8"/>
<line x1="298.50" y1="322.45" x2="539.30" y2="322.45" stroke="#e3e3e3" stroke-width="0.8"/>
<line x1="298.50" y1="346.10" x2="539.30" y2="346.10" stroke="#e3e3e3" stroke-width="0.8"/>
<line x1="302.80" y1="270.07" x2="302.80" y2="271.48" stroke="#404040" stroke-width="0.65"/>
<line x1="301.08" y1="270.07" x2="304.52" y2="270.07" stroke="#404040" stroke-width="0.65"/>
<line x1="302.80" y1="275.50" x2="302.80" y2="281.77" stroke="#404040" stroke-width="0.65"/>
<line x1="301.08" y1="281.77" x2="304.52" y2="281.77" stroke="#404040" stroke-width="0.65"/>
<rect x="299.36" y="271.48" width="6.88" height="4.02" fill="#ee96a4" stroke="#404040" stroke-width="0.65"/>
<line x1="299.36" y1="273.61" x2="306.24" y2="273.61" stroke="#404040" stroke-width="0.65"/>
<path d="M302.80 261.27L304.00 262.97L302.80 264.67L301.60 262.97Z" fill="#1e1e1e"/>
<line x1="311.40" y1="267.70" x2="311.40" y2="271.84" stroke="#404040" stroke-width="0.65"/>
<line x1="309.68" y1="267.70" x2="313.12" y2="267.70" stroke="#404040" stroke-width="0.65"/>
<line x1="311.40" y1="278.46" x2="311.40" y2="282.13" stroke="#404040" stroke-width="0.65"/>
<line x1="309.68" y1="282.13" x2="313.12" y2="282.13" stroke="#404040" stroke-width="0.65"/>
<rect x="307.96" y="271.84" width="6.88" height="6.62" fill="#ee978f" stroke="#404040" stroke-width="0.65"/>
<line x1="307.96" y1="274.56" x2="314.84" y2="274.56" stroke="#404040" stroke-width="0.65"/>
<line x1="320.00" y1="268.88" x2="320.00" y2="271.48" stroke="#404040" stroke-width="0.65"/>
<line x1="318.28" y1="268.88" x2="321.72" y2="268.88" stroke="#404040" stroke-width="0.65"/>
<line x1="320.00" y1="274.80" x2="320.00" y2="277.28" stroke="#404040" stroke-width="0.65"/>
<line x1="318.28" y1="277.28" x2="321.72" y2="277.28" stroke="#404040" stroke-width="0.65"/>
<rect x="316.56" y="271.48" width="6.88" height="3.31" fill="#eb966c" stroke="#404040" stroke-width="0.65"/>
<line x1="316.56" y1="273.26" x2="323.44" y2="273.26" stroke="#404040" stroke-width="0.65"/>
<line x1="328.60" y1="264.15" x2="328.60" y2="267.35" stroke="#404040" stroke-width="0.65"/>
<line x1="326.88" y1="264.15" x2="330.32" y2="264.15" stroke="#404040" stroke-width="0.65"/>
<line x1="328.60" y1="274.32" x2="328.60" y2="276.21" stroke="#404040" stroke-width="0.65"/>
<line x1="326.88" y1="276.21" x2="330.32" y2="276.21" stroke="#404040" stroke-width="0.65"/>
<rect x="325.16" y="267.35" width="6.88" height="6.98" fill="#dd9848" stroke="#404040" stroke-width="0.65"/>
<line x1="325.16" y1="271.13" x2="332.04" y2="271.13" stroke="#404040" stroke-width="0.65"/>
<rect x="333.76" y="267.35" width="6.88" height="7.80" fill="#cb9e46" stroke="#404040" stroke-width="0.65"/>
<line x1="333.76" y1="268.53" x2="340.64" y2="268.53" stroke="#404040" stroke-width="0.65"/>
<line x1="345.80" y1="260.49" x2="345.80" y2="264.86" stroke="#404040" stroke-width="0.65"/>
<line x1="344.08" y1="260.49" x2="347.52" y2="260.49" stroke="#404040" stroke-width="0.65"/>
<line x1="345.80" y1="281.06" x2="345.80" y2="293.83" stroke="#404040" stroke-width="0.65"/>
<line x1="344.08" y1="293.83" x2="347.52" y2="293.83" stroke="#404040" stroke-width="0.65"/>
<rect x="342.36" y="264.86" width="6.88" height="16.20" fill="#bca245" stroke="#404040" stroke-width="0.65"/>
<line x1="342.36" y1="276.21" x2="349.24" y2="276.21" stroke="#404040" stroke-width="0.65"/>
<line x1="354.40" y1="265.45" x2="354.40" y2="268.88" stroke="#404040" stroke-width="0.65"/>
<line x1="352.68" y1="265.45" x2="356.12" y2="265.45" stroke="#404040" stroke-width="0.65"/>
<line x1="354.40" y1="274.80" x2="354.40" y2="278.46" stroke="#404040" stroke-width="0.65"/>
<line x1="352.68" y1="278.46" x2="356.12" y2="278.46" stroke="#404040" stroke-width="0.65"/>
<rect x="350.96" y="268.88" width="6.88" height="5.91" fill="#ada543" stroke="#404040" stroke-width="0.65"/>
<line x1="350.96" y1="271.84" x2="357.84" y2="271.84" stroke="#404040" stroke-width="0.65"/>
<path d="M354.40 292.13L355.60 293.83L354.40 295.53L353.20 293.83Z" fill="#1e1e1e"/>
<line x1="363.00" y1="265.22" x2="363.00" y2="266.99" stroke="#404040" stroke-width="0.65"/>
<line x1="361.28" y1="265.22" x2="364.72" y2="265.22" stroke="#404040" stroke-width="0.65"/>
<line x1="363.00" y1="270.42" x2="363.00" y2="273.61" stroke="#404040" stroke-width="0.65"/>
<line x1="361.28" y1="273.61" x2="364.72" y2="273.61" stroke="#404040" stroke-width="0.65"/>
<rect x="359.56" y="266.99" width="6.88" height="3.43" fill="#9ea943" stroke="#404040" stroke-width="0.65"/>
<line x1="359.56" y1="268.53" x2="366.44" y2="268.53" stroke="#404040" stroke-width="0.65"/>
<line x1="371.60" y1="257.18" x2="371.60" y2="266.64" stroke="#404040" stroke-width="0.65"/>
<line x1="369.88" y1="257.18" x2="373.32" y2="257.18" stroke="#404040" stroke-width="0.65"/>
<rect x="368.16" y="266.64" width="6.88" height="9.22" fill="#8bae43" stroke="#404040" stroke-width="0.65"/>
<line x1="368.16" y1="272.31" x2="375.04" y2="272.31" stroke="#404040" stroke-width="0.65"/>
<path d="M371.60 300.53L372.80 302.23L371.60 303.93L370.40 302.23Z" fill="#1e1e1e"/>
<line x1="380.20" y1="255.99" x2="380.20" y2="268.53" stroke="#404040" stroke-width="0.65"/>
<line x1="378.48" y1="255.99" x2="381.92" y2="255.99" stroke="#404040" stroke-width="0.65"/>
<line x1="380.20" y1="276.69" x2="380.20" y2="278.11" stroke="#404040" stroke-width="0.65"/>
<line x1="378.48" y1="278.11" x2="381.92" y2="278.11" stroke="#404040" stroke-width="0.65"/>
<rect x="376.76" y="268.53" width="6.88" height="8.16" fill="#6fb443" stroke="#404040" stroke-width="0.65"/>
<line x1="376.76" y1="271.13" x2="383.64" y2="271.13" stroke="#404040" stroke-width="0.65"/>
<path d="M380.20 301.71L381.40 303.41L380.20 305.11L379.00 303.41Z" fill="#1e1e1e"/>
<line x1="388.80" y1="273.97" x2="388.80" y2="274.80" stroke="#404040" stroke-width="0.65"/>
<line x1="387.08" y1="274.80" x2="390.52" y2="274.80" stroke="#404040" stroke-width="0.65"/>
<rect x="385.36" y="267.94" width="6.88" height="6.03" fill="#44b85d" stroke="#404040" stroke-width="0.65"/>
<line x1="385.36" y1="273.38" x2="392.24" y2="273.38" stroke="#404040" stroke-width="0.65"/>
<path d="M388.80 253.35L390.00 255.05L388.80 256.75L387.60 255.05Z" fill="#1e1e1e"/>
<line x1="397.40" y1="254.69" x2="397.40" y2="259.42" stroke="#404040" stroke-width="0.65"/>
<line x1="395.68" y1="254.69" x2="399.12" y2="254.69" stroke="#404040" stroke-width="0.65"/>
<line x1="397.40" y1="267.11" x2="397.40" y2="275.98" stroke="#404040" stroke-width="0.65"/>
<line x1="395.68" y1="275.98" x2="399.12" y2="275.98" stroke="#404040" stroke-width="0.65"/>
<rect x="393.96" y="259.42" width="6.88" height="7.69" fill="#46b681" stroke="#404040" stroke-width="0.65"/>
<line x1="393.96" y1="262.62" x2="400.84" y2="262.62" stroke="#404040" stroke-width="0.65"/>
<line x1="406.00" y1="261.55" x2="406.00" y2="264.51" stroke="#404040" stroke-width="0.65"/>
<line x1="404.28" y1="261.55" x2="407.72" y2="261.55" stroke="#404040" stroke-width="0.65"/>
<rect x="402.56" y="264.51" width="6.88" height="8.75" fill="#46b593" stroke="#404040" stroke-width="0.65"/>
<line x1="402.56" y1="271.37" x2="409.44" y2="271.37" stroke="#404040" stroke-width="0.65"/>
<path d="M406.00 248.62L407.20 250.32L406.00 252.02L404.80 250.32Z" fill="#1e1e1e"/>
<path d="M406.00 291.07L407.20 292.77L406.00 294.47L404.80 292.77Z" fill="#1e1e1e"/>
<line x1="414.60" y1="255.99" x2="414.60" y2="259.78" stroke="#404040" stroke-width="0.65"/>
<line x1="412.88" y1="255.99" x2="416.32" y2="255.99" stroke="#404040" stroke-width="0.65"/>
<line x1="414.60" y1="272.55" x2="414.60" y2="280.59" stroke="#404040" stroke-width="0.65"/>
<line x1="412.88" y1="280.59" x2="416.32" y2="280.59" stroke="#404040" stroke-width="0.65"/>
<rect x="411.16" y="259.78" width="6.88" height="12.77" fill="#47b3a0" stroke="#404040" stroke-width="0.65"/>
<line x1="411.16" y1="259.78" x2="418.04" y2="259.78" stroke="#404040" stroke-width="0.65"/>
<line x1="423.20" y1="261.08" x2="423.20" y2="266.28" stroke="#404040" stroke-width="0.65"/>
<line x1="421.48" y1="266.28" x2="424.92" y2="266.28" stroke="#404040" stroke-width="0.65"/>
<rect x="419.76" y="255.17" width="6.88" height="5.91" fill="#48b2ab" stroke="#404040" stroke-width="0.65"/>
<line x1="419.76" y1="255.99" x2="426.64" y2="255.99" stroke="#404040" stroke-width="0.65"/>
<line x1="431.80" y1="251.62" x2="431.80" y2="257.18" stroke="#404040" stroke-width="0.65"/>
<line x1="430.08" y1="251.62" x2="433.52" y2="251.62" stroke="#404040" stroke-width="0.65"/>
<line x1="431.80" y1="261.31" x2="431.80" y2="264.51" stroke="#404040" stroke-width="0.65"/>
<line x1="430.08" y1="264.51" x2="433.52" y2="264.51" stroke="#404040" stroke-width="0.65"/>
<rect x="428.36" y="257.18" width="6.88" height="4.14" fill="#49b2b5" stroke="#404040" stroke-width="0.65"/>
<line x1="428.36" y1="258.95" x2="435.24" y2="258.95" stroke="#404040" stroke-width="0.65"/>
<line x1="440.40" y1="245.11" x2="440.40" y2="257.18" stroke="#404040" stroke-width="0.65"/>
<line x1="438.68" y1="245.11" x2="442.12" y2="245.11" stroke="#404040" stroke-width="0.65"/>
<line x1="440.40" y1="283.07" x2="440.40" y2="311.57" stroke="#404040" stroke-width="0.65"/>
<line x1="438.68" y1="311.57" x2="442.12" y2="311.57" stroke="#404040" stroke-width="0.65"/>
<rect x="436.96" y="257.18" width="6.88" height="25.90" fill="#4bb2c0" stroke="#404040" stroke-width="0.65"/>
<line x1="436.96" y1="262.97" x2="443.84" y2="262.97" stroke="#404040" stroke-width="0.65"/>
<line x1="449.00" y1="267.70" x2="449.00" y2="273.26" stroke="#404040" stroke-width="0.65"/>
<line x1="447.28" y1="267.70" x2="450.72" y2="267.70" stroke="#404040" stroke-width="0.65"/>
<line x1="449.00" y1="283.31" x2="449.00" y2="289.22" stroke="#404040" stroke-width="0.65"/>
<line x1="447.28" y1="289.22" x2="450.72" y2="289.22" stroke="#404040" stroke-width="0.65"/>
<rect x="445.56" y="273.26" width="6.88" height="10.05" fill="#4db2ce" stroke="#404040" stroke-width="0.65"/>
<line x1="445.56" y1="278.11" x2="452.44" y2="278.11" stroke="#404040" stroke-width="0.65"/>
<line x1="457.60" y1="205.38" x2="457.60" y2="230.92" stroke="#404040" stroke-width="0.65"/>
<line x1="455.88" y1="205.38" x2="459.32" y2="205.38" stroke="#404040" stroke-width="0.65"/>
<line x1="457.60" y1="274.44" x2="457.60" y2="324.58" stroke="#404040" stroke-width="0.65"/>
<line x1="455.88" y1="324.58" x2="459.32" y2="324.58" stroke="#404040" stroke-width="0.65"/>
<rect x="454.16" y="230.92" width="6.88" height="43.52" fill="#50b1e0" stroke="#404040" stroke-width="0.65"/>
<line x1="454.16" y1="255.76" x2="461.04" y2="255.76" stroke="#404040" stroke-width="0.65"/>
<line x1="466.20" y1="258.48" x2="466.20" y2="266.40" stroke="#404040" stroke-width="0.65"/>
<line x1="464.48" y1="258.48" x2="467.92" y2="258.48" stroke="#404040" stroke-width="0.65"/>
<line x1="466.20" y1="282.48" x2="466.20" y2="290.29" stroke="#404040" stroke-width="0.65"/>
<line x1="464.48" y1="290.29" x2="467.92" y2="290.29" stroke="#404040" stroke-width="0.65"/>
<rect x="462.76" y="266.40" width="6.88" height="16.08" fill="#7fb0ea" stroke="#404040" stroke-width="0.65"/>
<line x1="462.76" y1="274.44" x2="469.64" y2="274.44" stroke="#404040" stroke-width="0.65"/>
<line x1="474.80" y1="249.13" x2="474.80" y2="255.52" stroke="#404040" stroke-width="0.65"/>
<line x1="473.08" y1="249.13" x2="476.52" y2="249.13" stroke="#404040" stroke-width="0.65"/>
<line x1="474.80" y1="264.39" x2="474.80" y2="266.40" stroke="#404040" stroke-width="0.65"/>
<line x1="473.08" y1="266.40" x2="476.52" y2="266.40" stroke="#404040" stroke-width="0.65"/>
<rect x="471.36" y="255.52" width="6.88" height="8.87" fill="#a0adee" stroke="#404040" stroke-width="0.65"/>
<line x1="471.36" y1="261.31" x2="478.24" y2="261.31" stroke="#404040" stroke-width="0.65"/>
<line x1="483.40" y1="298.45" x2="483.40" y2="303.18" stroke="#404040" stroke-width="0.65"/>
<line x1="481.68" y1="303.18" x2="485.12" y2="303.18" stroke="#404040" stroke-width="0.65"/>
<rect x="479.96" y="280.12" width="6.88" height="18.33" fill="#b7a7ee" stroke="#404040" stroke-width="0.65"/>
<line x1="479.96" y1="280.47" x2="486.84" y2="280.47" stroke="#404040" stroke-width="0.65"/>
<path d="M483.40 218.70L484.60 220.40L483.40 222.10L482.20 220.40Z" fill="#1e1e1e"/>
<path d="M483.40 330.21L484.60 331.91L483.40 333.61L482.20 331.91Z" fill="#1e1e1e"/>
<line x1="492.00" y1="239.44" x2="492.00" y2="258.24" stroke="#404040" stroke-width="0.65"/>
<line x1="490.28" y1="239.44" x2="493.72" y2="239.44" stroke="#404040" stroke-width="0.65"/>
<line x1="492.00" y1="290.29" x2="492.00" y2="316.30" stroke="#404040" stroke-width="0.65"/>
<line x1="490.28" y1="316.30" x2="493.72" y2="316.30" stroke="#404040" stroke-width="0.65"/>
<rect x="488.56" y="258.24" width="6.88" height="32.05" fill="#c99fee" stroke="#404040" stroke-width="0.65"/>
<line x1="488.56" y1="273.14" x2="495.44" y2="273.14" stroke="#404040" stroke-width="0.65"/>
<line x1="500.60" y1="211.06" x2="500.60" y2="231.28" stroke="#404040" stroke-width="0.65"/>
<line x1="498.88" y1="211.06" x2="502.32" y2="211.06" stroke="#404040" stroke-width="0.65"/>
<line x1="500.60" y1="253.51" x2="500.60" y2="279.17" stroke="#404040" stroke-width="0.65"/>
<line x1="498.88" y1="279.17" x2="502.32" y2="279.17" stroke="#404040" stroke-width="0.65"/>
<rect x="497.16" y="231.28" width="6.88" height="22.23" fill="#dc94ec" stroke="#404040" stroke-width="0.65"/>
<line x1="497.16" y1="241.80" x2="504.04" y2="241.80" stroke="#404040" stroke-width="0.65"/>
<line x1="509.20" y1="259.42" x2="509.20" y2="270.18" stroke="#404040" stroke-width="0.65"/>
<line x1="507.48" y1="259.42" x2="510.92" y2="259.42" stroke="#404040" stroke-width="0.65"/>
<line x1="509.20" y1="290.29" x2="509.20" y2="300.93" stroke="#404040" stroke-width="0.65"/>
<line x1="507.48" y1="300.93" x2="510.92" y2="300.93" stroke="#404040" stroke-width="0.65"/>
<rect x="505.76" y="270.18" width="6.88" height="20.10" fill="#ec8ae5" stroke="#404040" stroke-width="0.65"/>
<line x1="505.76" y1="280.35" x2="512.64" y2="280.35" stroke="#404040" stroke-width="0.65"/>
<line x1="517.80" y1="238.37" x2="517.80" y2="247.24" stroke="#404040" stroke-width="0.65"/>
<line x1="516.08" y1="238.37" x2="519.52" y2="238.37" stroke="#404040" stroke-width="0.65"/>
<line x1="517.80" y1="264.86" x2="517.80" y2="273.38" stroke="#404040" stroke-width="0.65"/>
<line x1="516.08" y1="273.38" x2="519.52" y2="273.38" stroke="#404040" stroke-width="0.65"/>
<rect x="514.36" y="247.24" width="6.88" height="17.62" fill="#ec8ed3" stroke="#404040" stroke-width="0.65"/>
<line x1="514.36" y1="255.76" x2="521.24" y2="255.76" stroke="#404040" stroke-width="0.65"/>
<line x1="526.40" y1="261.79" x2="526.40" y2="281.42" stroke="#404040" stroke-width="0.65"/>
<line x1="524.68" y1="261.79" x2="528.12" y2="261.79" stroke="#404040" stroke-width="0.65"/>
<line x1="526.40" y1="306.37" x2="526.40" y2="343.26" stroke="#404040" stroke-width="0.65"/>
<line x1="524.68" y1="343.26" x2="528.12" y2="343.26" stroke="#404040" stroke-width="0.65"/>
<rect x="522.96" y="281.42" width="6.88" height="24.95" fill="#ed91c3" stroke="#404040" stroke-width="0.65"/>
<line x1="522.96" y1="293.12" x2="529.84" y2="293.12" stroke="#404040" stroke-width="0.65"/>
<line x1="531.56" y1="260.49" x2="538.44" y2="260.49" stroke="#404040" stroke-width="0.65"/>
<rect x="298.50" y="198.40" width="240.80" height="151.80" fill="none" stroke="#d4d4d4" stroke-width="0.9"/>
<text x="294.50" y="206.70" font-size="5.0" text-anchor="end" font-weight="normal" fill="#141414">0.6</text>
<text x="294.50" y="230.35" font-size="5.0" text-anchor="end" font-weight="normal" fill="#141414">0.4</text>
<text x="294.50" y="254.00" font-size="5.0" text-anchor="end" font-weight="normal" fill="#141414">0.2</text>
<text x="294.50" y="277.65" font-size="5.0" text-anchor="end" font-weight="normal" fill="#141414">0.0</text>
<text x="294.50" y="301.30" font-size="5.0" text-anchor="end" font-weight="normal" fill="#141414">−0.2</text>
<text x="294.50" y="324.95" font-size="5.0" text-anchor="end" font-weight="normal" fill="#141414">−0.4</text>
<text x="294.50" y="348.60" font-size="5.0" text-anchor="end" font-weight="normal" fill="#141414">−0.6</text>
<text x="302.80" y="358.30" font-size="5.0" text-anchor="middle" font-weight="normal" fill="#141414">2</text>
<text x="311.40" y="358.30" font-size="5.0" text-anchor="middle" font-weight="normal" fill="#141414">3</text>
<text x="320.00" y="358.30" font-size="5.0" text-anchor="middle" font-weight="normal" fill="#141414">4</text>
<text x="328.60" y="358.30" font-size="5.0" text-anchor="middle" font-weight="normal" fill="#141414">5</text>
<text x="337.20" y="358.30" font-size="5.0" text-anchor="middle" font-weight="normal" fill="#141414">6</text>
<text x="345.80" y="358.30" font-size="5.0" text-anchor="middle" font-weight="normal" fill="#141414">7</text>
<text x="354.40" y="358.30" font-size="5.0" text-anchor="middle" font-weight="normal" fill="#141414">8</text>
<text x="363.00" y="358.30" font-size="5.0" text-anchor="middle" font-weight="normal" fill="#141414">9</text>
<text x="371.60" y="358.30" font-size="5.0" text-anchor="middle" font-weight="normal" fill="#141414">10</text>
<text x="380.20" y="358.30" font-size="5.0" text-anchor="middle" font-weight="normal" fill="#141414">11</text>
<text x="388.80" y="358.30" font-size="5.0" text-anchor="middle" font-weight="normal" fill="#141414">12</text>
<text x="397.40" y="358.30" font-size="5.0" text-anchor="middle" font-weight="normal" fill="#141414">13</text>
<text x="406.00" y="358.30" font-size="5.0" text-anchor="middle" font-weight="normal" fill="#141414">14</text>
<text x="414.60" y="358.30" font-size="5.0" text-anchor="middle" font-weight="normal" fill="#141414">15</text>
<text x="423.20" y="358.30" font-size="5.0" text-anchor="middle" font-weight="normal" fill="#141414">16</text>
<text x="431.80" y="358.30" font-size="5.0" text-anchor="middle" font-weight="normal" fill="#141414">17</text>
<text x="440.40" y="358.30" font-size="5.0" text-anchor="middle" font-weight="normal" fill="#141414">18</text>
<text x="449.00" y="358.30" font-size="5.0" text-anchor="middle" font-weight="normal" fill="#141414">19</text>
<text x="457.60" y="358.30" font-size="5.0" text-anchor="middle" font-weight="normal" fill="#141414">20</text>
<text x="466.20" y="358.30" font-size="5.0" text-anchor="middle" font-weight="normal" fill="#141414">21</text>
<text x="474.80" y="358.30" font-size="5.0" text-anchor="middle" font-weight="normal" fill="#141414">22</text>
<text x="483.40" y="358.30" font-size="5.0" text-anchor="middle" font-weight="normal" fill="#141414">23</text>
<text x="492.00" y="358.30" font-size="5.0" text-anchor="middle" font-weight="normal" fill="#141414">24</text>
<text x="500.60" y="358.30" font-size="5.0" text-anchor="middle" font-weight="normal" fill="#141414">25</text>
<text x="509.20" y="358.30" font-size="5.0" text-anchor="middle" font-weight="normal" fill="#141414">26</text>
<text x="517.80" y="358.30" font-size="5.0" text-anchor="middle" font-weight="normal" fill="#141414">27</text>
<text x="526.40" y="358.30" font-size="5.0" text-anchor="middle" font-weight="normal" fill="#141414">28</text>
<text x="535.00" y="358.30" font-size="5.0" text-anchor="middle" font-weight="normal" fill="#141414">29</text>
<text x="380.00" y="193.40" font-size="4.9" text-anchor="start" font-weight="bold" fill="#111" textLength="77.70" lengthAdjust="spacingAndGlyphs" font-family="'DejaVu Sans', sans-serif">BIA difference by NMRL Severity</text>
<text x="403.80" y="363.70" font-size="4.8" text-anchor="start" font-weight="normal" fill="#141414" textLength="42.20" lengthAdjust="spacingAndGlyphs" font-family="'DejaVu Sans', sans-serif">MRI Severity Index</text>
<text transform="translate(283.00,278.65) rotate(-90)" x="0" y="0" font-size="4.8" text-anchor="middle" font-weight="normal" fill="#141414" textLength="46.30" lengthAdjust="spacingAndGlyphs" font-family="'DejaVu Sans', sans-serif">BIA Score Difference</text>
<line x1="298.50" y1="380.69" x2="539.30" y2="380.69" stroke="#e3e3e3" stroke-width="0.8"/>
<line x1="298.50" y1="398.63" x2="539.30" y2="398.63" stroke="#e3e3e3" stroke-width="0.8"/>
<line x1="298.50" y1="416.57" x2="539.30" y2="416.57" stroke="#e3e3e3" stroke-width="0.8"/>
<line x1="298.50" y1="434.51" x2="539.30" y2="434.51" stroke="#e3e3e3" stroke-width="0.8"/>
<line x1="298.50" y1="452.45" x2="539.30" y2="452.45" stroke="#e3e3e3" stroke-width="0.8"/>
<line x1="298.50" y1="470.39" x2="539.30" y2="470.39" stroke="#e3e3e3" stroke-width="0.8"/>
<line x1="298.50" y1="488.33" x2="539.30" y2="488.33" stroke="#e3e3e3" stroke-width="0.8"/>
<line x1="298.50" y1="506.27" x2="539.30" y2="506.27" stroke="#e3e3e3" stroke-width="0.8"/>
<line x1="298.50" y1="524.21" x2="539.30" y2="524.21" stroke="#e3e3e3" stroke-width="0.8"/>
<line x1="302.80" y1="428.23" x2="302.80" y2="432.99" stroke="#404040" stroke-width="0.65"/>
<line x1="301.08" y1="428.23" x2="304.52" y2="428.23" stroke="#404040" stroke-width="0.65"/>
<line x1="302.80" y1="449.13" x2="302.80" y2="449.85" stroke="#404040" stroke-width="0.65"/>
<line x1="301.08" y1="449.85" x2="304.52" y2="449.85" stroke="#404040" stroke-width="0.65"/>
<rect x="299.36" y="432.99" width="6.88" height="16.15" fill="#ee96a4" stroke="#404040" stroke-width="0.65"/>
<line x1="299.36" y1="439.17" x2="306.24" y2="439.17" stroke="#404040" stroke-width="0.65"/>
<path d="M302.80 513.36L304.00 515.06L302.80 516.76L301.60 515.06Z" fill="#1e1e1e"/>
<line x1="311.40" y1="413.61" x2="311.40" y2="420.16" stroke="#404040" stroke-width="0.65"/>
<line x1="309.68" y1="413.61" x2="313.12" y2="413.61" stroke="#404040" stroke-width="0.65"/>
<line x1="311.40" y1="442.94" x2="311.40" y2="455.41" stroke="#404040" stroke-width="0.65"/>
<line x1="309.68" y1="455.41" x2="313.12" y2="455.41" stroke="#404040" stroke-width="0.65"/>
<rect x="307.96" y="420.16" width="6.88" height="22.78" fill="#ee978f" stroke="#404040" stroke-width="0.65"/>
<line x1="307.96" y1="437.38" x2="314.84" y2="437.38" stroke="#404040" stroke-width="0.65"/>
<line x1="320.00" y1="419.89" x2="320.00" y2="461.15" stroke="#404040" stroke-width="0.65"/>
<line x1="318.28" y1="419.89" x2="321.72" y2="419.89" stroke="#404040" stroke-width="0.65"/>
<line x1="320.00" y1="489.14" x2="320.00" y2="510.13" stroke="#404040" stroke-width="0.65"/>
<line x1="318.28" y1="510.13" x2="321.72" y2="510.13" stroke="#404040" stroke-width="0.65"/>
<rect x="316.56" y="461.15" width="6.88" height="27.99" fill="#eb966c" stroke="#404040" stroke-width="0.65"/>
<line x1="316.56" y1="478.19" x2="323.44" y2="478.19" stroke="#404040" stroke-width="0.65"/>
<line x1="328.60" y1="437.02" x2="328.60" y2="438.19" stroke="#404040" stroke-width="0.65"/>
<line x1="326.88" y1="437.02" x2="330.32" y2="437.02" stroke="#404040" stroke-width="0.65"/>
<line x1="328.60" y1="455.32" x2="328.60" y2="469.85" stroke="#404040" stroke-width="0.65"/>
<line x1="326.88" y1="469.85" x2="330.32" y2="469.85" stroke="#404040" stroke-width="0.65"/>
<rect x="325.16" y="438.19" width="6.88" height="17.13" fill="#dd9848" stroke="#404040" stroke-width="0.65"/>
<line x1="325.16" y1="442.85" x2="332.04" y2="442.85" stroke="#404040" stroke-width="0.65"/>
<path d="M328.60 391.55L329.80 393.25L328.60 394.95L327.40 393.25Z" fill="#1e1e1e"/>
<rect x="333.76" y="426.44" width="6.88" height="3.68" fill="#cb9e46" stroke="#404040" stroke-width="0.65"/>
<line x1="333.76" y1="428.23" x2="340.64" y2="428.23" stroke="#404040" stroke-width="0.65"/>
<path d="M337.20 415.59L338.40 417.29L337.20 418.99L336.00 417.29Z" fill="#1e1e1e"/>
<path d="M337.20 436.94L338.40 438.64L337.20 440.34L336.00 438.64Z" fill="#1e1e1e"/>
<line x1="345.80" y1="432.18" x2="345.80" y2="439.98" stroke="#404040" stroke-width="0.65"/>
<line x1="344.08" y1="432.18" x2="347.52" y2="432.18" stroke="#404040" stroke-width="0.65"/>
<line x1="345.80" y1="453.53" x2="345.80" y2="461.06" stroke="#404040" stroke-width="0.65"/>
<line x1="344.08" y1="461.06" x2="347.52" y2="461.06" stroke="#404040" stroke-width="0.65"/>
<rect x="342.36" y="439.98" width="6.88" height="13.54" fill="#bca245" stroke="#404040" stroke-width="0.65"/>
<line x1="342.36" y1="447.70" x2="349.24" y2="447.70" stroke="#404040" stroke-width="0.65"/>
<line x1="354.40" y1="400.42" x2="354.40" y2="428.14" stroke="#404040" stroke-width="0.65"/>
<line x1="352.68" y1="400.42" x2="356.12" y2="400.42" stroke="#404040" stroke-width="0.65"/>
<line x1="354.40" y1="453.53" x2="354.40" y2="457.47" stroke="#404040" stroke-width="0.65"/>
<line x1="352.68" y1="457.47" x2="356.12" y2="457.47" stroke="#404040" stroke-width="0.65"/>
<rect x="350.96" y="428.14" width="6.88" height="25.39" fill="#ada543" stroke="#404040" stroke-width="0.65"/>
<line x1="350.96" y1="436.39" x2="357.84" y2="436.39" stroke="#404040" stroke-width="0.65"/>
<line x1="363.00" y1="408.50" x2="363.00" y2="425.90" stroke="#404040" stroke-width="0.65"/>
<line x1="361.28" y1="408.50" x2="364.72" y2="408.50" stroke="#404040" stroke-width="0.65"/>
<line x1="363.00" y1="449.13" x2="363.00" y2="455.32" stroke="#404040" stroke-width="0.65"/>
<line x1="361.28" y1="455.32" x2="364.72" y2="455.32" stroke="#404040" stroke-width="0.65"/>
<rect x="359.56" y="425.90" width="6.88" height="23.23" fill="#9ea943" stroke="#404040" stroke-width="0.65"/>
<line x1="359.56" y1="443.30" x2="366.44" y2="443.30" stroke="#404040" stroke-width="0.65"/>
<line x1="371.60" y1="456.40" x2="371.60" y2="465.82" stroke="#404040" stroke-width="0.65"/>
<line x1="369.88" y1="465.82" x2="373.32" y2="465.82" stroke="#404040" stroke-width="0.65"/>
<rect x="368.16" y="445.54" width="6.88" height="10.85" fill="#8bae43" stroke="#404040" stroke-width="0.65"/>
<line x1="368.16" y1="455.14" x2="375.04" y2="455.14" stroke="#404040" stroke-width="0.65"/>
<path d="M371.60 404.11L372.80 405.81L371.60 407.51L370.40 405.81Z" fill="#1e1e1e"/>
<line x1="380.20" y1="401.41" x2="380.20" y2="417.11" stroke="#404040" stroke-width="0.65"/>
<line x1="378.48" y1="401.41" x2="381.92" y2="401.41" stroke="#404040" stroke-width="0.65"/>
<line x1="380.20" y1="446.62" x2="380.20" y2="447.70" stroke="#404040" stroke-width="0.65"/>
<line x1="378.48" y1="447.70" x2="381.92" y2="447.70" stroke="#404040" stroke-width="0.65"/>
<rect x="376.76" y="417.11" width="6.88" height="29.51" fill="#6fb443" stroke="#404040" stroke-width="0.65"/>
<line x1="376.76" y1="432.99" x2="383.64" y2="432.99" stroke="#404040" stroke-width="0.65"/>
<path d="M380.20 494.70L381.40 496.40L380.20 498.10L379.00 496.40Z" fill="#1e1e1e"/>
<rect x="385.36" y="447.88" width="6.88" height="7.71" fill="#44b85d" stroke="#404040" stroke-width="0.65"/>
<line x1="385.36" y1="451.64" x2="392.24" y2="451.64" stroke="#404040" stroke-width="0.65"/>
<path d="M388.80 410.30L390.00 412.00L388.80 413.70L387.60 412.00Z" fill="#1e1e1e"/>
<path d="M388.80 474.88L390.00 476.58L388.80 478.28L387.60 476.58Z" fill="#1e1e1e"/>
<line x1="397.40" y1="424.46" x2="397.40" y2="438.64" stroke="#404040" stroke-width="0.65"/>
<line x1="395.68" y1="424.46" x2="399.12" y2="424.46" stroke="#404040" stroke-width="0.65"/>
<line x1="397.40" y1="461.06" x2="397.40" y2="461.60" stroke="#404040" stroke-width="0.65"/>
<line x1="395.68" y1="461.60" x2="399.12" y2="461.60" stroke="#404040" stroke-width="0.65"/>
<rect x="393.96" y="438.64" width="6.88" height="22.43" fill="#46b681" stroke="#404040" stroke-width="0.65"/>
<line x1="393.96" y1="454.15" x2="400.84" y2="454.15" stroke="#404040" stroke-width="0.65"/>
<path d="M397.40 502.69L398.60 504.39L397.40 506.09L396.20 504.39Z" fill="#1e1e1e"/>
<line x1="406.00" y1="392.35" x2="406.00" y2="432.00" stroke="#404040" stroke-width="0.65"/>
<line x1="404.28" y1="392.35" x2="407.72" y2="392.35" stroke="#404040" stroke-width="0.65"/>
<line x1="406.00" y1="459.18" x2="406.00" y2="488.33" stroke="#404040" stroke-width="0.65"/>
<line x1="404.28" y1="488.33" x2="407.72" y2="488.33" stroke="#404040" stroke-width="0.65"/>
<rect x="402.56" y="432.00" width="6.88" height="27.18" fill="#46b593" stroke="#404040" stroke-width="0.65"/>
<line x1="402.56" y1="453.35" x2="409.44" y2="453.35" stroke="#404040" stroke-width="0.65"/>
<line x1="414.60" y1="411.73" x2="414.60" y2="416.39" stroke="#404040" stroke-width="0.65"/>
<line x1="412.88" y1="411.73" x2="416.32" y2="411.73" stroke="#404040" stroke-width="0.65"/>
<rect x="411.16" y="416.39" width="6.88" height="37.85" fill="#47b3a0" stroke="#404040" stroke-width="0.65"/>
<line x1="411.16" y1="449.67" x2="418.04" y2="449.67" stroke="#404040" stroke-width="0.65"/>
<line x1="423.20" y1="427.42" x2="423.20" y2="442.22" stroke="#404040" stroke-width="0.65"/>
<line x1="421.48" y1="427.42" x2="424.92" y2="427.42" stroke="#404040" stroke-width="0.65"/>
<line x1="423.20" y1="478.46" x2="423.20" y2="499.99" stroke="#404040" stroke-width="0.65"/>
<line x1="421.48" y1="499.99" x2="424.92" y2="499.99" stroke="#404040" stroke-width="0.65"/>
<rect x="419.76" y="442.22" width="6.88" height="36.24" fill="#48b2ab" stroke="#404040" stroke-width="0.65"/>
<line x1="419.76" y1="456.40" x2="426.64" y2="456.40" stroke="#404040" stroke-width="0.65"/>
<line x1="431.80" y1="429.58" x2="431.80" y2="432.72" stroke="#404040" stroke-width="0.65"/>
<line x1="430.08" y1="429.58" x2="433.52" y2="429.58" stroke="#404040" stroke-width="0.65"/>
<line x1="431.80" y1="450.12" x2="431.80" y2="463.30" stroke="#404040" stroke-width="0.65"/>
<line x1="430.08" y1="463.30" x2="433.52" y2="463.30" stroke="#404040" stroke-width="0.65"/>
<rect x="428.36" y="432.72" width="6.88" height="17.40" fill="#49b2b5" stroke="#404040" stroke-width="0.65"/>
<line x1="428.36" y1="434.15" x2="435.24" y2="434.15" stroke="#404040" stroke-width="0.65"/>
<line x1="440.40" y1="384.19" x2="440.40" y2="408.32" stroke="#404040" stroke-width="0.65"/>
<line x1="438.68" y1="384.19" x2="442.12" y2="384.19" stroke="#404040" stroke-width="0.65"/>
<line x1="440.40" y1="443.66" x2="440.40" y2="454.24" stroke="#404040" stroke-width="0.65"/>
<line x1="438.68" y1="454.24" x2="442.12" y2="454.24" stroke="#404040" stroke-width="0.65"/>
<rect x="436.96" y="408.32" width="6.88" height="35.34" fill="#4bb2c0" stroke="#404040" stroke-width="0.65"/>
<line x1="436.96" y1="437.38" x2="443.84" y2="437.38" stroke="#404040" stroke-width="0.65"/>
<line x1="449.00" y1="420.16" x2="449.00" y2="426.44" stroke="#404040" stroke-width="0.65"/>
<line x1="447.28" y1="420.16" x2="450.72" y2="420.16" stroke="#404040" stroke-width="0.65"/>
<line x1="449.00" y1="438.64" x2="449.00" y2="445.18" stroke="#404040" stroke-width="0.65"/>
<line x1="447.28" y1="445.18" x2="450.72" y2="445.18" stroke="#404040" stroke-width="0.65"/>
<rect x="445.56" y="426.44" width="6.88" height="12.20" fill="#4db2ce" stroke="#404040" stroke-width="0.65"/>
<line x1="445.56" y1="432.18" x2="452.44" y2="432.18" stroke="#404040" stroke-width="0.65"/>
<line x1="457.60" y1="389.39" x2="457.60" y2="420.16" stroke="#404040" stroke-width="0.65"/>
<line x1="455.88" y1="389.39" x2="459.32" y2="389.39" stroke="#404040" stroke-width="0.65"/>
<rect x="454.16" y="420.16" width="6.88" height="35.16" fill="#50b1e0" stroke="#404040" stroke-width="0.65"/>
<line x1="454.16" y1="442.22" x2="461.04" y2="442.22" stroke="#404040" stroke-width="0.65"/>
<path d="M457.60 506.36L458.80 508.06L457.60 509.76L456.40 508.06Z" fill="#1e1e1e"/>
<line x1="466.20" y1="447.25" x2="466.20" y2="448.23" stroke="#404040" stroke-width="0.65"/>
<line x1="464.48" y1="447.25" x2="467.92" y2="447.25" stroke="#404040" stroke-width="0.65"/>
<line x1="466.20" y1="452.63" x2="466.20" y2="454.24" stroke="#404040" stroke-width="0.65"/>
<line x1="464.48" y1="454.24" x2="467.92" y2="454.24" stroke="#404040" stroke-width="0.65"/>
<rect x="462.76" y="448.23" width="6.88" height="4.40" fill="#7fb0ea" stroke="#404040" stroke-width="0.65"/>
<line x1="462.76" y1="450.48" x2="469.64" y2="450.48" stroke="#404040" stroke-width="0.65"/>
<line x1="474.80" y1="393.34" x2="474.80" y2="400.24" stroke="#404040" stroke-width="0.65"/>
<line x1="473.08" y1="393.34" x2="476.52" y2="393.34" stroke="#404040" stroke-width="0.65"/>
<line x1="474.80" y1="428.59" x2="474.80" y2="449.58" stroke="#404040" stroke-width="0.65"/>
<line x1="473.08" y1="449.58" x2="476.52" y2="449.58" stroke="#404040" stroke-width="0.65"/>
<rect x="471.36" y="400.24" width="6.88" height="28.35" fill="#a0adee" stroke="#404040" stroke-width="0.65"/>
<line x1="471.36" y1="407.33" x2="478.24" y2="407.33" stroke="#404040" stroke-width="0.65"/>
<line x1="483.40" y1="406.61" x2="483.40" y2="432.00" stroke="#404040" stroke-width="0.65"/>
<line x1="481.68" y1="406.61" x2="485.12" y2="406.61" stroke="#404040" stroke-width="0.65"/>
<line x1="483.40" y1="469.49" x2="483.40" y2="522.06" stroke="#404040" stroke-width="0.65"/>
<line x1="481.68" y1="522.06" x2="485.12" y2="522.06" stroke="#404040" stroke-width="0.65"/>
<rect x="479.96" y="432.00" width="6.88" height="37.49" fill="#b7a7ee" stroke="#404040" stroke-width="0.65"/>
<line x1="479.96" y1="439.08" x2="486.84" y2="439.08" stroke="#404040" stroke-width="0.65"/>
<line x1="492.00" y1="425.27" x2="492.00" y2="435.23" stroke="#404040" stroke-width="0.65"/>
<line x1="490.28" y1="425.27" x2="493.72" y2="425.27" stroke="#404040" stroke-width="0.65"/>
<rect x="488.56" y="435.23" width="6.88" height="14.89" fill="#c99fee" stroke="#404040" stroke-width="0.65"/>
<line x1="488.56" y1="444.29" x2="495.44" y2="444.29" stroke="#404040" stroke-width="0.65"/>
<line x1="500.60" y1="394.06" x2="500.60" y2="422.04" stroke="#404040" stroke-width="0.65"/>
<line x1="498.88" y1="394.06" x2="502.32" y2="394.06" stroke="#404040" stroke-width="0.65"/>
<line x1="500.60" y1="451.19" x2="500.60" y2="460.07" stroke="#404040" stroke-width="0.65"/>
<line x1="498.88" y1="460.07" x2="502.32" y2="460.07" stroke="#404040" stroke-width="0.65"/>
<rect x="497.16" y="422.04" width="6.88" height="29.15" fill="#dc94ec" stroke="#404040" stroke-width="0.65"/>
<line x1="497.16" y1="427.15" x2="504.04" y2="427.15" stroke="#404040" stroke-width="0.65"/>
<line x1="509.20" y1="410.20" x2="509.20" y2="418.27" stroke="#404040" stroke-width="0.65"/>
<line x1="507.48" y1="410.20" x2="510.92" y2="410.20" stroke="#404040" stroke-width="0.65"/>
<line x1="509.20" y1="434.42" x2="509.20" y2="442.49" stroke="#404040" stroke-width="0.65"/>
<line x1="507.48" y1="442.49" x2="510.92" y2="442.49" stroke="#404040" stroke-width="0.65"/>
<rect x="505.76" y="418.27" width="6.88" height="16.15" fill="#ec8ae5" stroke="#404040" stroke-width="0.65"/>
<line x1="505.76" y1="426.44" x2="512.64" y2="426.44" stroke="#404040" stroke-width="0.65"/>
<line x1="517.80" y1="431.46" x2="517.80" y2="440.61" stroke="#404040" stroke-width="0.65"/>
<line x1="516.08" y1="431.46" x2="519.52" y2="431.46" stroke="#404040" stroke-width="0.65"/>
<line x1="517.80" y1="458.46" x2="517.80" y2="467.34" stroke="#404040" stroke-width="0.65"/>
<line x1="516.08" y1="467.34" x2="519.52" y2="467.34" stroke="#404040" stroke-width="0.65"/>
<rect x="514.36" y="440.61" width="6.88" height="17.85" fill="#ec8ed3" stroke="#404040" stroke-width="0.65"/>
<line x1="514.36" y1="449.40" x2="521.24" y2="449.40" stroke="#404040" stroke-width="0.65"/>
<line x1="526.40" y1="416.48" x2="526.40" y2="418.63" stroke="#404040" stroke-width="0.65"/>
<line x1="524.68" y1="416.48" x2="528.12" y2="416.48" stroke="#404040" stroke-width="0.65"/>
<line x1="526.40" y1="463.84" x2="526.40" y2="469.22" stroke="#404040" stroke-width="0.65"/>
<line x1="524.68" y1="469.22" x2="528.12" y2="469.22" stroke="#404040" stroke-width="0.65"/>
<rect x="522.96" y="418.63" width="6.88" height="45.21" fill="#ed91c3" stroke="#404040" stroke-width="0.65"/>
<line x1="522.96" y1="439.62" x2="529.84" y2="439.62" stroke="#404040" stroke-width="0.65"/>
<line x1="531.56" y1="449.40" x2="538.44" y2="449.40" stroke="#404040" stroke-width="0.65"/>
<rect x="298.50" y="377.30" width="240.80" height="151.70" fill="none" stroke="#d4d4d4" stroke-width="0.9"/>
<text x="294.50" y="383.19" font-size="5.0" text-anchor="end" font-weight="normal" fill="#141414">80</text>
<text x="294.50" y="401.13" font-size="5.0" text-anchor="end" font-weight="normal" fill="#141414">60</text>
<text x="294.50" y="419.07" font-size="5.0" text-anchor="end" font-weight="normal" fill="#141414">40</text>
<text x="294.50" y="437.01" font-size="5.0" text-anchor="end" font-weight="normal" fill="#141414">20</text>
<text x="294.50" y="454.95" font-size="5.0" text-anchor="end" font-weight="normal" fill="#141414">0</text>
<text x="294.50" y="472.89" font-size="5.0" text-anchor="end" font-weight="normal" fill="#141414">−20</text>
<text x="294.50" y="490.83" font-size="5.0" text-anchor="end" font-weight="normal" fill="#141414">−40</text>
<text x="294.50" y="508.77" font-size="5.0" text-anchor="end" font-weight="normal" fill="#141414">−60</text>
<text x="294.50" y="526.71" font-size="5.0" text-anchor="end" font-weight="normal" fill="#141414">−80</text>
<text x="302.80" y="536.90" font-size="5.0" text-anchor="middle" font-weight="normal" fill="#141414">2</text>
<text x="311.40" y="536.90" font-size="5.0" text-anchor="middle" font-weight="normal" fill="#141414">3</text>
<text x="320.00" y="536.90" font-size="5.0" text-anchor="middle" font-weight="normal" fill="#141414">4</text>
<text x="328.60" y="536.90" font-size="5.0" text-anchor="middle" font-weight="normal" fill="#141414">5</text>
<text x="337.20" y="536.90" font-size="5.0" text-anchor="middle" font-weight="normal" fill="#141414">6</text>
<text x="345.80" y="536.90" font-size="5.0" text-anchor="middle" font-weight="normal" fill="#141414">7</text>
<text x="354.40" y="536.90" font-size="5.0" text-anchor="middle" font-weight="normal" fill="#141414">8</text>
<text x="363.00" y="536.90" font-size="5.0" text-anchor="middle" font-weight="normal" fill="#141414">9</text>
<text x="371.60" y="536.90" font-size="5.0" text-anchor="middle" font-weight="normal" fill="#141414">10</text>
<text x="380.20" y="536.90" font-size="5.0" text-anchor="middle" font-weight="normal" fill="#141414">11</text>
<text x="388.80" y="536.90" font-size="5.0" text-anchor="middle" font-weight="normal" fill="#141414">12</text>
<text x="397.40" y="536.90" font-size="5.0" text-anchor="middle" font-weight="normal" fill="#141414">13</text>
<text x="406.00" y="536.90" font-size="5.0" text-anchor="middle" font-weight="normal" fill="#141414">14</text>
<text x="414.60" y="536.90" font-size="5.0" text-anchor="middle" font-weight="normal" fill="#141414">15</text>
<text x="423.20" y="536.90" font-size="5.0" text-anchor="middle" font-weight="normal" fill="#141414">16</text>
<text x="431.80" y="536.90" font-size="5.0" text-anchor="middle" font-weight="normal" fill="#141414">17</text>
<text x="440.40" y="536.90" font-size="5.0" text-anchor="middle" font-weight="normal" fill="#141414">18</text>
<text x="449.00" y="536.90" font-size="5.0" text-anchor="middle" font-weight="normal" fill="#141414">19</text>
<text x="457.60" y="536.90" font-size="5.0" text-anchor="middle" font-weight="normal" fill="#141414">20</text>
<text x="466.20" y="536.90" font-size="5.0" text-anchor="middle" font-weight="normal" fill="#141414">21</text>
<text x="474.80" y="536.90" font-size="5.0" text-anchor="middle" font-weight="normal" fill="#141414">22</text>
<text x="483.40" y="536.90" font-size="5.0" text-anchor="middle" font-weight="normal" fill="#141414">23</text>
<text x="492.00" y="536.90" font-size="5.0" text-anchor="middle" font-weight="normal" fill="#141414">24</text>
<text x="500.60" y="536.90" font-size="5.0" text-anchor="middle" font-weight="normal" fill="#141414">25</text>
<text x="509.20" y="536.90" font-size="5.0" text-anchor="middle" font-weight="normal" fill="#141414">26</text>
<text x="517.80" y="536.90" font-size="5.0" text-anchor="middle" font-weight="normal" fill="#141414">27</text>
<text x="526.40" y="536.90" font-size="5.0" text-anchor="middle" font-weight="normal" fill="#141414">28</text>
<text x="535.00" y="536.90" font-size="5.0" text-anchor="middle" font-weight="normal" fill="#141414">29</text>
<text x="372.80" y="371.80" font-size="4.9" text-anchor="start" font-weight="bold" fill="#111" textLength="91.10" lengthAdjust="spacingAndGlyphs" font-family="'DejaVu Sans', sans-serif">Lymph Q difference by NMRL Severity</text>
<text x="404.30" y="543.30" font-size="4.8" text-anchor="start" font-weight="normal" fill="#141414" textLength="41.40" lengthAdjust="spacingAndGlyphs" font-family="'DejaVu Sans', sans-serif">MRI Severity Index</text>
<text transform="translate(283.00,449.60) rotate(-90)" x="0" y="0" font-size="4.8" text-anchor="middle" font-weight="normal" fill="#141414" textLength="59.20" lengthAdjust="spacingAndGlyphs" font-family="'DejaVu Sans', sans-serif">Lymph Q Score Difference</text>
</svg>
</body></html>
